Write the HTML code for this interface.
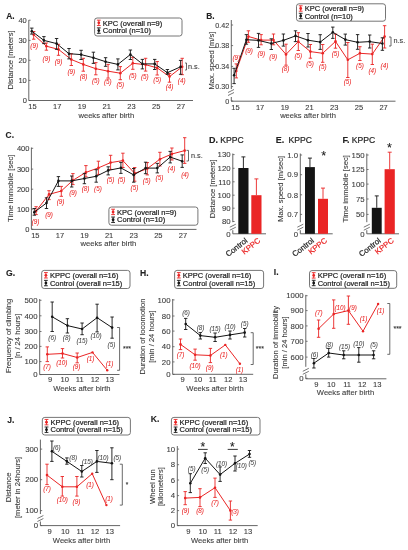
<!DOCTYPE html>
<html><head><meta charset="utf-8"><style>
html,body{margin:0;padding:0;background:#fff;width:408px;height:550px;overflow:hidden}
svg{display:block;font-family:"Liberation Sans", sans-serif;filter:blur(0.35px)}
</style></head><body>
<svg width="408" height="550" viewBox="0 0 408 550">
<rect width="408" height="550" fill="#fff"/>
<text x="6.20" y="19.32" font-size="8.4" text-anchor="start" fill="#222" stroke="#222" stroke-width="0.1" font-weight="bold">A.</text>
<line x1="28.80" y1="20.10" x2="28.80" y2="100.50" stroke="#555" stroke-width="0.9"/>
<line x1="28.80" y1="20.20" x2="30.60" y2="20.20" stroke="#555" stroke-width="0.8"/>
<text x="26.80" y="22.88" font-size="7.5" text-anchor="end" fill="#3c3c3c" stroke="#3c3c3c" stroke-width="0.1">40</text>
<line x1="28.80" y1="40.40" x2="30.60" y2="40.40" stroke="#555" stroke-width="0.8"/>
<text x="26.80" y="43.09" font-size="7.5" text-anchor="end" fill="#3c3c3c" stroke="#3c3c3c" stroke-width="0.1">30</text>
<line x1="28.80" y1="60.30" x2="30.60" y2="60.30" stroke="#555" stroke-width="0.8"/>
<text x="26.80" y="62.98" font-size="7.5" text-anchor="end" fill="#3c3c3c" stroke="#3c3c3c" stroke-width="0.1">20</text>
<line x1="28.80" y1="80.40" x2="30.60" y2="80.40" stroke="#555" stroke-width="0.8"/>
<text x="26.80" y="83.09" font-size="7.5" text-anchor="end" fill="#3c3c3c" stroke="#3c3c3c" stroke-width="0.1">10</text>
<line x1="28.80" y1="100.50" x2="30.60" y2="100.50" stroke="#555" stroke-width="0.8"/>
<text x="26.80" y="103.19" font-size="7.5" text-anchor="end" fill="#3c3c3c" stroke="#3c3c3c" stroke-width="0.1">0</text>
<line x1="28.80" y1="100.50" x2="193.00" y2="100.50" stroke="#555" stroke-width="0.9"/>
<text x="32.50" y="109.48" font-size="7.5" text-anchor="middle" fill="#3c3c3c" stroke="#3c3c3c" stroke-width="0.1">15</text>
<text x="57.24" y="109.48" font-size="7.5" text-anchor="middle" fill="#3c3c3c" stroke="#3c3c3c" stroke-width="0.1">17</text>
<text x="81.98" y="109.48" font-size="7.5" text-anchor="middle" fill="#3c3c3c" stroke="#3c3c3c" stroke-width="0.1">19</text>
<text x="106.72" y="109.48" font-size="7.5" text-anchor="middle" fill="#3c3c3c" stroke="#3c3c3c" stroke-width="0.1">21</text>
<text x="131.46" y="109.48" font-size="7.5" text-anchor="middle" fill="#3c3c3c" stroke="#3c3c3c" stroke-width="0.1">23</text>
<text x="156.20" y="109.48" font-size="7.5" text-anchor="middle" fill="#3c3c3c" stroke="#3c3c3c" stroke-width="0.1">25</text>
<text x="180.94" y="109.48" font-size="7.5" text-anchor="middle" fill="#3c3c3c" stroke="#3c3c3c" stroke-width="0.1">27</text>
<text x="106.30" y="118.32" font-size="7.6" text-anchor="middle" fill="#3c3c3c" stroke="#3c3c3c" stroke-width="0.1">weeks after birth</text>
<text x="10.00" y="62.72" font-size="7.6" text-anchor="middle" fill="#3c3c3c" stroke="#3c3c3c" stroke-width="0.1" transform="rotate(-90 10.00 60.00)">Distance [meters]</text>
<polyline points="33.70,34.70 46.40,46.20 58.50,49.40 71.30,59.50 83.30,64.40 95.80,68.70 108.10,71.20 120.30,73.20 132.80,63.30 145.60,64.70 157.20,67.90 169.50,76.60 182.20,66.80" fill="none" stroke="#ea2525" stroke-width="1.0" stroke-linejoin="round"/>
<line x1="33.70" y1="31.50" x2="33.70" y2="39.20" stroke="#ea2525" stroke-width="0.9"/>
<line x1="32.00" y1="31.50" x2="35.40" y2="31.50" stroke="#ea2525" stroke-width="0.9"/>
<line x1="32.00" y1="39.20" x2="35.40" y2="39.20" stroke="#ea2525" stroke-width="0.9"/>
<circle cx="33.70" cy="34.70" r="1.3" fill="#ea2525"/>
<line x1="46.40" y1="43.00" x2="46.40" y2="50.20" stroke="#ea2525" stroke-width="0.9"/>
<line x1="44.70" y1="43.00" x2="48.10" y2="43.00" stroke="#ea2525" stroke-width="0.9"/>
<line x1="44.70" y1="50.20" x2="48.10" y2="50.20" stroke="#ea2525" stroke-width="0.9"/>
<circle cx="46.40" cy="46.20" r="1.3" fill="#ea2525"/>
<line x1="58.50" y1="44.30" x2="58.50" y2="55.30" stroke="#ea2525" stroke-width="0.9"/>
<line x1="56.80" y1="44.30" x2="60.20" y2="44.30" stroke="#ea2525" stroke-width="0.9"/>
<line x1="56.80" y1="55.30" x2="60.20" y2="55.30" stroke="#ea2525" stroke-width="0.9"/>
<circle cx="58.50" cy="49.40" r="1.3" fill="#ea2525"/>
<line x1="71.30" y1="53.80" x2="71.30" y2="65.50" stroke="#ea2525" stroke-width="0.9"/>
<line x1="69.60" y1="53.80" x2="73.00" y2="53.80" stroke="#ea2525" stroke-width="0.9"/>
<line x1="69.60" y1="65.50" x2="73.00" y2="65.50" stroke="#ea2525" stroke-width="0.9"/>
<circle cx="71.30" cy="59.50" r="1.3" fill="#ea2525"/>
<line x1="83.30" y1="58.30" x2="83.30" y2="71.20" stroke="#ea2525" stroke-width="0.9"/>
<line x1="81.60" y1="58.30" x2="85.00" y2="58.30" stroke="#ea2525" stroke-width="0.9"/>
<line x1="81.60" y1="71.20" x2="85.00" y2="71.20" stroke="#ea2525" stroke-width="0.9"/>
<circle cx="83.30" cy="64.40" r="1.3" fill="#ea2525"/>
<line x1="95.80" y1="62.60" x2="95.80" y2="74.80" stroke="#ea2525" stroke-width="0.9"/>
<line x1="94.10" y1="62.60" x2="97.50" y2="62.60" stroke="#ea2525" stroke-width="0.9"/>
<line x1="94.10" y1="74.80" x2="97.50" y2="74.80" stroke="#ea2525" stroke-width="0.9"/>
<circle cx="95.80" cy="68.70" r="1.3" fill="#ea2525"/>
<line x1="108.10" y1="64.40" x2="108.10" y2="78.10" stroke="#ea2525" stroke-width="0.9"/>
<line x1="106.40" y1="64.40" x2="109.80" y2="64.40" stroke="#ea2525" stroke-width="0.9"/>
<line x1="106.40" y1="78.10" x2="109.80" y2="78.10" stroke="#ea2525" stroke-width="0.9"/>
<circle cx="108.10" cy="71.20" r="1.3" fill="#ea2525"/>
<line x1="120.30" y1="66.60" x2="120.30" y2="79.70" stroke="#ea2525" stroke-width="0.9"/>
<line x1="118.60" y1="66.60" x2="122.00" y2="66.60" stroke="#ea2525" stroke-width="0.9"/>
<line x1="118.60" y1="79.70" x2="122.00" y2="79.70" stroke="#ea2525" stroke-width="0.9"/>
<circle cx="120.30" cy="73.20" r="1.3" fill="#ea2525"/>
<line x1="132.80" y1="57.30" x2="132.80" y2="69.30" stroke="#ea2525" stroke-width="0.9"/>
<line x1="131.10" y1="57.30" x2="134.50" y2="57.30" stroke="#ea2525" stroke-width="0.9"/>
<line x1="131.10" y1="69.30" x2="134.50" y2="69.30" stroke="#ea2525" stroke-width="0.9"/>
<circle cx="132.80" cy="63.30" r="1.3" fill="#ea2525"/>
<line x1="145.60" y1="58.30" x2="145.60" y2="71.10" stroke="#ea2525" stroke-width="0.9"/>
<line x1="143.90" y1="58.30" x2="147.30" y2="58.30" stroke="#ea2525" stroke-width="0.9"/>
<line x1="143.90" y1="71.10" x2="147.30" y2="71.10" stroke="#ea2525" stroke-width="0.9"/>
<circle cx="145.60" cy="64.70" r="1.3" fill="#ea2525"/>
<line x1="157.20" y1="61.50" x2="157.20" y2="75.00" stroke="#ea2525" stroke-width="0.9"/>
<line x1="155.50" y1="61.50" x2="158.90" y2="61.50" stroke="#ea2525" stroke-width="0.9"/>
<line x1="155.50" y1="75.00" x2="158.90" y2="75.00" stroke="#ea2525" stroke-width="0.9"/>
<circle cx="157.20" cy="67.90" r="1.3" fill="#ea2525"/>
<line x1="169.50" y1="73.50" x2="169.50" y2="82.20" stroke="#ea2525" stroke-width="0.9"/>
<line x1="167.80" y1="73.50" x2="171.20" y2="73.50" stroke="#ea2525" stroke-width="0.9"/>
<line x1="167.80" y1="82.20" x2="171.20" y2="82.20" stroke="#ea2525" stroke-width="0.9"/>
<circle cx="169.50" cy="76.60" r="1.3" fill="#ea2525"/>
<line x1="182.20" y1="58.30" x2="182.20" y2="74.70" stroke="#ea2525" stroke-width="0.9"/>
<line x1="180.50" y1="58.30" x2="183.90" y2="58.30" stroke="#ea2525" stroke-width="0.9"/>
<line x1="180.50" y1="74.70" x2="183.90" y2="74.70" stroke="#ea2525" stroke-width="0.9"/>
<circle cx="182.20" cy="66.80" r="1.3" fill="#ea2525"/>
<polyline points="31.80,31.20 43.90,40.40 56.60,43.60 69.00,53.70 81.10,54.60 93.40,57.70 105.60,61.70 117.90,64.40 130.40,54.50 142.40,63.90 154.70,63.90 167.40,72.70 180.60,66.80" fill="none" stroke="#141414" stroke-width="1.0" stroke-linejoin="round"/>
<line x1="31.80" y1="28.10" x2="31.80" y2="34.10" stroke="#141414" stroke-width="0.9"/>
<line x1="30.10" y1="28.10" x2="33.50" y2="28.10" stroke="#141414" stroke-width="0.9"/>
<line x1="30.10" y1="34.10" x2="33.50" y2="34.10" stroke="#141414" stroke-width="0.9"/>
<circle cx="31.80" cy="31.20" r="1.3" fill="#141414"/>
<line x1="43.90" y1="36.60" x2="43.90" y2="43.60" stroke="#141414" stroke-width="0.9"/>
<line x1="42.20" y1="36.60" x2="45.60" y2="36.60" stroke="#141414" stroke-width="0.9"/>
<line x1="42.20" y1="43.60" x2="45.60" y2="43.60" stroke="#141414" stroke-width="0.9"/>
<circle cx="43.90" cy="40.40" r="1.3" fill="#141414"/>
<line x1="56.60" y1="38.50" x2="56.60" y2="49.40" stroke="#141414" stroke-width="0.9"/>
<line x1="54.90" y1="38.50" x2="58.30" y2="38.50" stroke="#141414" stroke-width="0.9"/>
<line x1="54.90" y1="49.40" x2="58.30" y2="49.40" stroke="#141414" stroke-width="0.9"/>
<circle cx="56.60" cy="43.60" r="1.3" fill="#141414"/>
<line x1="69.00" y1="48.50" x2="69.00" y2="58.90" stroke="#141414" stroke-width="0.9"/>
<line x1="67.30" y1="48.50" x2="70.70" y2="48.50" stroke="#141414" stroke-width="0.9"/>
<line x1="67.30" y1="58.90" x2="70.70" y2="58.90" stroke="#141414" stroke-width="0.9"/>
<circle cx="69.00" cy="53.70" r="1.3" fill="#141414"/>
<line x1="81.10" y1="50.30" x2="81.10" y2="59.50" stroke="#141414" stroke-width="0.9"/>
<line x1="79.40" y1="50.30" x2="82.80" y2="50.30" stroke="#141414" stroke-width="0.9"/>
<line x1="79.40" y1="59.50" x2="82.80" y2="59.50" stroke="#141414" stroke-width="0.9"/>
<circle cx="81.10" cy="54.60" r="1.3" fill="#141414"/>
<line x1="93.40" y1="52.20" x2="93.40" y2="63.40" stroke="#141414" stroke-width="0.9"/>
<line x1="91.70" y1="52.20" x2="95.10" y2="52.20" stroke="#141414" stroke-width="0.9"/>
<line x1="91.70" y1="63.40" x2="95.10" y2="63.40" stroke="#141414" stroke-width="0.9"/>
<circle cx="93.40" cy="57.70" r="1.3" fill="#141414"/>
<line x1="105.60" y1="57.70" x2="105.60" y2="66.30" stroke="#141414" stroke-width="0.9"/>
<line x1="103.90" y1="57.70" x2="107.30" y2="57.70" stroke="#141414" stroke-width="0.9"/>
<line x1="103.90" y1="66.30" x2="107.30" y2="66.30" stroke="#141414" stroke-width="0.9"/>
<circle cx="105.60" cy="61.70" r="1.3" fill="#141414"/>
<line x1="117.90" y1="58.90" x2="117.90" y2="69.90" stroke="#141414" stroke-width="0.9"/>
<line x1="116.20" y1="58.90" x2="119.60" y2="58.90" stroke="#141414" stroke-width="0.9"/>
<line x1="116.20" y1="69.90" x2="119.60" y2="69.90" stroke="#141414" stroke-width="0.9"/>
<circle cx="117.90" cy="64.40" r="1.3" fill="#141414"/>
<line x1="130.40" y1="50.00" x2="130.40" y2="59.50" stroke="#141414" stroke-width="0.9"/>
<line x1="128.70" y1="50.00" x2="132.10" y2="50.00" stroke="#141414" stroke-width="0.9"/>
<line x1="128.70" y1="59.50" x2="132.10" y2="59.50" stroke="#141414" stroke-width="0.9"/>
<circle cx="130.40" cy="54.50" r="1.3" fill="#141414"/>
<line x1="142.40" y1="59.40" x2="142.40" y2="68.90" stroke="#141414" stroke-width="0.9"/>
<line x1="140.70" y1="59.40" x2="144.10" y2="59.40" stroke="#141414" stroke-width="0.9"/>
<line x1="140.70" y1="68.90" x2="144.10" y2="68.90" stroke="#141414" stroke-width="0.9"/>
<circle cx="142.40" cy="63.90" r="1.3" fill="#141414"/>
<line x1="154.70" y1="59.40" x2="154.70" y2="69.50" stroke="#141414" stroke-width="0.9"/>
<line x1="153.00" y1="59.40" x2="156.40" y2="59.40" stroke="#141414" stroke-width="0.9"/>
<line x1="153.00" y1="69.50" x2="156.40" y2="69.50" stroke="#141414" stroke-width="0.9"/>
<circle cx="154.70" cy="63.90" r="1.3" fill="#141414"/>
<line x1="167.40" y1="69.50" x2="167.40" y2="74.30" stroke="#141414" stroke-width="0.9"/>
<line x1="165.70" y1="69.50" x2="169.10" y2="69.50" stroke="#141414" stroke-width="0.9"/>
<line x1="165.70" y1="74.30" x2="169.10" y2="74.30" stroke="#141414" stroke-width="0.9"/>
<circle cx="167.40" cy="72.70" r="1.3" fill="#141414"/>
<line x1="180.60" y1="60.40" x2="180.60" y2="74.30" stroke="#141414" stroke-width="0.9"/>
<line x1="178.90" y1="60.40" x2="182.30" y2="60.40" stroke="#141414" stroke-width="0.9"/>
<line x1="178.90" y1="74.30" x2="182.30" y2="74.30" stroke="#141414" stroke-width="0.9"/>
<circle cx="180.60" cy="66.80" r="1.3" fill="#141414"/>
<text x="34.20" y="48.26" font-size="6.3" text-anchor="middle" fill="#ea2525" stroke="#ea2525" stroke-width="0.05" font-style="italic">(9)</text>
<text x="46.40" y="60.76" font-size="6.3" text-anchor="middle" fill="#ea2525" stroke="#ea2525" stroke-width="0.05" font-style="italic">(9)</text>
<text x="58.50" y="64.26" font-size="6.3" text-anchor="middle" fill="#ea2525" stroke="#ea2525" stroke-width="0.05" font-style="italic">(9)</text>
<text x="71.30" y="73.56" font-size="6.3" text-anchor="middle" fill="#ea2525" stroke="#ea2525" stroke-width="0.05" font-style="italic">(9)</text>
<text x="83.60" y="78.96" font-size="6.3" text-anchor="middle" fill="#ea2525" stroke="#ea2525" stroke-width="0.05" font-style="italic">(8)</text>
<text x="95.80" y="82.56" font-size="6.3" text-anchor="middle" fill="#ea2525" stroke="#ea2525" stroke-width="0.05" font-style="italic">(5)</text>
<text x="107.80" y="84.46" font-size="6.3" text-anchor="middle" fill="#ea2525" stroke="#ea2525" stroke-width="0.05" font-style="italic">(5)</text>
<text x="120.30" y="86.86" font-size="6.3" text-anchor="middle" fill="#ea2525" stroke="#ea2525" stroke-width="0.05" font-style="italic">(5)</text>
<text x="132.80" y="77.76" font-size="6.3" text-anchor="middle" fill="#ea2525" stroke="#ea2525" stroke-width="0.05" font-style="italic">(5)</text>
<text x="144.80" y="78.86" font-size="6.3" text-anchor="middle" fill="#ea2525" stroke="#ea2525" stroke-width="0.05" font-style="italic">(5)</text>
<text x="157.20" y="82.06" font-size="6.3" text-anchor="middle" fill="#ea2525" stroke="#ea2525" stroke-width="0.05" font-style="italic">(5)</text>
<text x="169.50" y="88.76" font-size="6.3" text-anchor="middle" fill="#ea2525" stroke="#ea2525" stroke-width="0.05" font-style="italic">(4)</text>
<text x="181.70" y="82.86" font-size="6.3" text-anchor="middle" fill="#ea2525" stroke="#ea2525" stroke-width="0.05" font-style="italic">(4)</text>
<rect x="94.60" y="18.00" width="87.40" height="18.00" rx="2.5" fill="#fff" stroke="#666" stroke-width="0.9"/>
<line x1="98.80" y1="20.16" x2="98.80" y2="25.56" stroke="#ea2525" stroke-width="0.9"/>
<line x1="96.90" y1="20.16" x2="100.70" y2="20.16" stroke="#ea2525" stroke-width="0.9"/>
<line x1="96.90" y1="25.56" x2="100.70" y2="25.56" stroke="#ea2525" stroke-width="0.9"/>
<circle cx="98.80" cy="22.86" r="1.4" fill="#ea2525"/>
<line x1="98.80" y1="27.90" x2="98.80" y2="33.30" stroke="#141414" stroke-width="0.9"/>
<line x1="96.90" y1="27.90" x2="100.70" y2="27.90" stroke="#141414" stroke-width="0.9"/>
<line x1="96.90" y1="33.30" x2="100.70" y2="33.30" stroke="#141414" stroke-width="0.9"/>
<circle cx="98.80" cy="30.60" r="1.4" fill="#141414"/>
<text x="102.80" y="25.54" font-size="7.5" text-anchor="start" fill="#262626" stroke="#262626" stroke-width="0.22">KPC (overall n=9)</text>
<text x="102.80" y="33.29" font-size="7.5" text-anchor="start" fill="#262626" stroke="#262626" stroke-width="0.22">Control (n=10)</text>
<line x1="185.00" y1="63.00" x2="186.50" y2="63.00" stroke="#444" stroke-width="0.8"/>
<line x1="186.50" y1="63.00" x2="186.50" y2="70.00" stroke="#444" stroke-width="0.8"/>
<line x1="185.00" y1="70.00" x2="186.50" y2="70.00" stroke="#444" stroke-width="0.8"/>
<text x="188.00" y="69.41" font-size="7.3" text-anchor="start" fill="#3c3c3c" stroke="#3c3c3c" stroke-width="0.1">n.s.</text>
<text x="206.20" y="19.32" font-size="8.4" text-anchor="start" fill="#222" stroke="#222" stroke-width="0.1" font-weight="bold">B.</text>
<line x1="231.30" y1="20.00" x2="231.30" y2="101.00" stroke="#555" stroke-width="0.9"/>
<line x1="231.30" y1="25.00" x2="233.10" y2="25.00" stroke="#555" stroke-width="0.8"/>
<text x="229.30" y="27.58" font-size="7.2" text-anchor="end" fill="#3c3c3c" stroke="#3c3c3c" stroke-width="0.1">0.42</text>
<line x1="231.30" y1="45.60" x2="233.10" y2="45.60" stroke="#555" stroke-width="0.8"/>
<text x="229.30" y="48.18" font-size="7.2" text-anchor="end" fill="#3c3c3c" stroke="#3c3c3c" stroke-width="0.1">0.38</text>
<line x1="231.30" y1="66.40" x2="233.10" y2="66.40" stroke="#555" stroke-width="0.8"/>
<text x="229.30" y="68.98" font-size="7.2" text-anchor="end" fill="#3c3c3c" stroke="#3c3c3c" stroke-width="0.1">0.34</text>
<line x1="231.30" y1="86.60" x2="233.10" y2="86.60" stroke="#555" stroke-width="0.8"/>
<text x="229.30" y="89.18" font-size="7.2" text-anchor="end" fill="#3c3c3c" stroke="#3c3c3c" stroke-width="0.1">0.30</text>
<line x1="231.30" y1="101.00" x2="233.10" y2="101.00" stroke="#555" stroke-width="0.8"/>
<text x="229.30" y="103.58" font-size="7.2" text-anchor="end" fill="#3c3c3c" stroke="#3c3c3c" stroke-width="0.1">0</text>
<rect x="228.00" y="89.00" width="6" height="8" fill="#fff"/>
<line x1="228.00" y1="92.50" x2="234.00" y2="89.50" stroke="#555" stroke-width="0.8"/>
<line x1="228.00" y1="95.50" x2="234.00" y2="92.50" stroke="#555" stroke-width="0.8"/>
<line x1="231.00" y1="101.20" x2="395.50" y2="101.20" stroke="#555" stroke-width="0.9"/>
<text x="235.40" y="109.69" font-size="7.5" text-anchor="middle" fill="#3c3c3c" stroke="#3c3c3c" stroke-width="0.1">15</text>
<text x="260.10" y="109.69" font-size="7.5" text-anchor="middle" fill="#3c3c3c" stroke="#3c3c3c" stroke-width="0.1">17</text>
<text x="284.80" y="109.69" font-size="7.5" text-anchor="middle" fill="#3c3c3c" stroke="#3c3c3c" stroke-width="0.1">19</text>
<text x="309.50" y="109.69" font-size="7.5" text-anchor="middle" fill="#3c3c3c" stroke="#3c3c3c" stroke-width="0.1">21</text>
<text x="334.20" y="109.69" font-size="7.5" text-anchor="middle" fill="#3c3c3c" stroke="#3c3c3c" stroke-width="0.1">23</text>
<text x="358.90" y="109.69" font-size="7.5" text-anchor="middle" fill="#3c3c3c" stroke="#3c3c3c" stroke-width="0.1">25</text>
<text x="383.60" y="109.69" font-size="7.5" text-anchor="middle" fill="#3c3c3c" stroke="#3c3c3c" stroke-width="0.1">27</text>
<text x="308.00" y="117.72" font-size="7.6" text-anchor="middle" fill="#3c3c3c" stroke="#3c3c3c" stroke-width="0.1">weeks after birth</text>
<text x="211.40" y="63.32" font-size="7.6" text-anchor="middle" fill="#3c3c3c" stroke="#3c3c3c" stroke-width="0.1" transform="rotate(-90 211.40 60.60)">Max. speed [m/s]</text>
<polyline points="236.30,70.90 248.40,36.50 261.10,40.10 273.50,40.10 286.00,54.40 298.30,41.60 310.40,51.60 322.70,53.30 335.50,41.40 347.80,59.80 359.90,53.30 372.30,54.10 384.60,36.50" fill="none" stroke="#ea2525" stroke-width="1.0" stroke-linejoin="round"/>
<line x1="236.30" y1="63.90" x2="236.30" y2="77.90" stroke="#ea2525" stroke-width="0.9"/>
<line x1="234.60" y1="63.90" x2="238.00" y2="63.90" stroke="#ea2525" stroke-width="0.9"/>
<line x1="234.60" y1="77.90" x2="238.00" y2="77.90" stroke="#ea2525" stroke-width="0.9"/>
<circle cx="236.30" cy="70.90" r="1.3" fill="#ea2525"/>
<line x1="248.40" y1="30.80" x2="248.40" y2="42.30" stroke="#ea2525" stroke-width="0.9"/>
<line x1="246.70" y1="30.80" x2="250.10" y2="30.80" stroke="#ea2525" stroke-width="0.9"/>
<line x1="246.70" y1="42.30" x2="250.10" y2="42.30" stroke="#ea2525" stroke-width="0.9"/>
<circle cx="248.40" cy="36.50" r="1.3" fill="#ea2525"/>
<line x1="261.10" y1="34.60" x2="261.10" y2="44.80" stroke="#ea2525" stroke-width="0.9"/>
<line x1="259.40" y1="34.60" x2="262.80" y2="34.60" stroke="#ea2525" stroke-width="0.9"/>
<line x1="259.40" y1="44.80" x2="262.80" y2="44.80" stroke="#ea2525" stroke-width="0.9"/>
<circle cx="261.10" cy="40.10" r="1.3" fill="#ea2525"/>
<line x1="273.50" y1="34.00" x2="273.50" y2="44.80" stroke="#ea2525" stroke-width="0.9"/>
<line x1="271.80" y1="34.00" x2="275.20" y2="34.00" stroke="#ea2525" stroke-width="0.9"/>
<line x1="271.80" y1="44.80" x2="275.20" y2="44.80" stroke="#ea2525" stroke-width="0.9"/>
<circle cx="273.50" cy="40.10" r="1.3" fill="#ea2525"/>
<line x1="286.00" y1="44.20" x2="286.00" y2="65.20" stroke="#ea2525" stroke-width="0.9"/>
<line x1="284.30" y1="44.20" x2="287.70" y2="44.20" stroke="#ea2525" stroke-width="0.9"/>
<line x1="284.30" y1="65.20" x2="287.70" y2="65.20" stroke="#ea2525" stroke-width="0.9"/>
<circle cx="286.00" cy="54.40" r="1.3" fill="#ea2525"/>
<line x1="298.30" y1="32.70" x2="298.30" y2="50.50" stroke="#ea2525" stroke-width="0.9"/>
<line x1="296.60" y1="32.70" x2="300.00" y2="32.70" stroke="#ea2525" stroke-width="0.9"/>
<line x1="296.60" y1="50.50" x2="300.00" y2="50.50" stroke="#ea2525" stroke-width="0.9"/>
<circle cx="298.30" cy="41.60" r="1.3" fill="#ea2525"/>
<line x1="310.40" y1="44.50" x2="310.40" y2="58.20" stroke="#ea2525" stroke-width="0.9"/>
<line x1="308.70" y1="44.50" x2="312.10" y2="44.50" stroke="#ea2525" stroke-width="0.9"/>
<line x1="308.70" y1="58.20" x2="312.10" y2="58.20" stroke="#ea2525" stroke-width="0.9"/>
<circle cx="310.40" cy="51.60" r="1.3" fill="#ea2525"/>
<line x1="322.70" y1="44.50" x2="322.70" y2="62.30" stroke="#ea2525" stroke-width="0.9"/>
<line x1="321.00" y1="44.50" x2="324.40" y2="44.50" stroke="#ea2525" stroke-width="0.9"/>
<line x1="321.00" y1="62.30" x2="324.40" y2="62.30" stroke="#ea2525" stroke-width="0.9"/>
<circle cx="322.70" cy="53.30" r="1.3" fill="#ea2525"/>
<line x1="335.50" y1="34.10" x2="335.50" y2="48.20" stroke="#ea2525" stroke-width="0.9"/>
<line x1="333.80" y1="34.10" x2="337.20" y2="34.10" stroke="#ea2525" stroke-width="0.9"/>
<line x1="333.80" y1="48.20" x2="337.20" y2="48.20" stroke="#ea2525" stroke-width="0.9"/>
<circle cx="335.50" cy="41.40" r="1.3" fill="#ea2525"/>
<line x1="347.80" y1="42.50" x2="347.80" y2="77.50" stroke="#ea2525" stroke-width="0.9"/>
<line x1="346.10" y1="42.50" x2="349.50" y2="42.50" stroke="#ea2525" stroke-width="0.9"/>
<line x1="346.10" y1="77.50" x2="349.50" y2="77.50" stroke="#ea2525" stroke-width="0.9"/>
<circle cx="347.80" cy="59.80" r="1.3" fill="#ea2525"/>
<line x1="359.90" y1="46.70" x2="359.90" y2="60.50" stroke="#ea2525" stroke-width="0.9"/>
<line x1="358.20" y1="46.70" x2="361.60" y2="46.70" stroke="#ea2525" stroke-width="0.9"/>
<line x1="358.20" y1="60.50" x2="361.60" y2="60.50" stroke="#ea2525" stroke-width="0.9"/>
<circle cx="359.90" cy="53.30" r="1.3" fill="#ea2525"/>
<line x1="372.30" y1="44.20" x2="372.30" y2="64.50" stroke="#ea2525" stroke-width="0.9"/>
<line x1="370.60" y1="44.20" x2="374.00" y2="44.20" stroke="#ea2525" stroke-width="0.9"/>
<line x1="370.60" y1="64.50" x2="374.00" y2="64.50" stroke="#ea2525" stroke-width="0.9"/>
<circle cx="372.30" cy="54.10" r="1.3" fill="#ea2525"/>
<line x1="384.60" y1="25.70" x2="384.60" y2="48.00" stroke="#ea2525" stroke-width="0.9"/>
<line x1="382.90" y1="25.70" x2="386.30" y2="25.70" stroke="#ea2525" stroke-width="0.9"/>
<line x1="382.90" y1="48.00" x2="386.30" y2="48.00" stroke="#ea2525" stroke-width="0.9"/>
<circle cx="384.60" cy="36.50" r="1.3" fill="#ea2525"/>
<polyline points="234.10,75.30 246.40,39.70 258.50,40.40 271.30,43.50 283.40,40.40 295.50,35.90 308.00,40.20 320.20,42.10 332.80,32.30 345.30,39.60 357.60,42.30 369.70,41.60 382.40,43.50" fill="none" stroke="#141414" stroke-width="1.0" stroke-linejoin="round"/>
<line x1="234.10" y1="68.30" x2="234.10" y2="83.60" stroke="#141414" stroke-width="0.9"/>
<line x1="232.40" y1="68.30" x2="235.80" y2="68.30" stroke="#141414" stroke-width="0.9"/>
<line x1="232.40" y1="83.60" x2="235.80" y2="83.60" stroke="#141414" stroke-width="0.9"/>
<circle cx="234.10" cy="75.30" r="1.3" fill="#141414"/>
<line x1="246.40" y1="34.60" x2="246.40" y2="44.20" stroke="#141414" stroke-width="0.9"/>
<line x1="244.70" y1="34.60" x2="248.10" y2="34.60" stroke="#141414" stroke-width="0.9"/>
<line x1="244.70" y1="44.20" x2="248.10" y2="44.20" stroke="#141414" stroke-width="0.9"/>
<circle cx="246.40" cy="39.70" r="1.3" fill="#141414"/>
<line x1="258.50" y1="33.40" x2="258.50" y2="47.40" stroke="#141414" stroke-width="0.9"/>
<line x1="256.80" y1="33.40" x2="260.20" y2="33.40" stroke="#141414" stroke-width="0.9"/>
<line x1="256.80" y1="47.40" x2="260.20" y2="47.40" stroke="#141414" stroke-width="0.9"/>
<circle cx="258.50" cy="40.40" r="1.3" fill="#141414"/>
<line x1="271.30" y1="38.80" x2="271.30" y2="49.50" stroke="#141414" stroke-width="0.9"/>
<line x1="269.60" y1="38.80" x2="273.00" y2="38.80" stroke="#141414" stroke-width="0.9"/>
<line x1="269.60" y1="49.50" x2="273.00" y2="49.50" stroke="#141414" stroke-width="0.9"/>
<circle cx="271.30" cy="43.50" r="1.3" fill="#141414"/>
<line x1="283.40" y1="34.00" x2="283.40" y2="46.10" stroke="#141414" stroke-width="0.9"/>
<line x1="281.70" y1="34.00" x2="285.10" y2="34.00" stroke="#141414" stroke-width="0.9"/>
<line x1="281.70" y1="46.10" x2="285.10" y2="46.10" stroke="#141414" stroke-width="0.9"/>
<circle cx="283.40" cy="40.40" r="1.3" fill="#141414"/>
<line x1="295.50" y1="30.80" x2="295.50" y2="41.60" stroke="#141414" stroke-width="0.9"/>
<line x1="293.80" y1="30.80" x2="297.20" y2="30.80" stroke="#141414" stroke-width="0.9"/>
<line x1="293.80" y1="41.60" x2="297.20" y2="41.60" stroke="#141414" stroke-width="0.9"/>
<circle cx="295.50" cy="35.90" r="1.3" fill="#141414"/>
<line x1="308.00" y1="33.50" x2="308.00" y2="47.00" stroke="#141414" stroke-width="0.9"/>
<line x1="306.30" y1="33.50" x2="309.70" y2="33.50" stroke="#141414" stroke-width="0.9"/>
<line x1="306.30" y1="47.00" x2="309.70" y2="47.00" stroke="#141414" stroke-width="0.9"/>
<circle cx="308.00" cy="40.20" r="1.3" fill="#141414"/>
<line x1="320.20" y1="34.70" x2="320.20" y2="49.40" stroke="#141414" stroke-width="0.9"/>
<line x1="318.50" y1="34.70" x2="321.90" y2="34.70" stroke="#141414" stroke-width="0.9"/>
<line x1="318.50" y1="49.40" x2="321.90" y2="49.40" stroke="#141414" stroke-width="0.9"/>
<circle cx="320.20" cy="42.10" r="1.3" fill="#141414"/>
<line x1="332.80" y1="27.10" x2="332.80" y2="38.40" stroke="#141414" stroke-width="0.9"/>
<line x1="331.10" y1="27.10" x2="334.50" y2="27.10" stroke="#141414" stroke-width="0.9"/>
<line x1="331.10" y1="38.40" x2="334.50" y2="38.40" stroke="#141414" stroke-width="0.9"/>
<circle cx="332.80" cy="32.30" r="1.3" fill="#141414"/>
<line x1="345.30" y1="34.10" x2="345.30" y2="45.10" stroke="#141414" stroke-width="0.9"/>
<line x1="343.60" y1="34.10" x2="347.00" y2="34.10" stroke="#141414" stroke-width="0.9"/>
<line x1="343.60" y1="45.10" x2="347.00" y2="45.10" stroke="#141414" stroke-width="0.9"/>
<circle cx="345.30" cy="39.60" r="1.3" fill="#141414"/>
<line x1="357.60" y1="34.60" x2="357.60" y2="49.30" stroke="#141414" stroke-width="0.9"/>
<line x1="355.90" y1="34.60" x2="359.30" y2="34.60" stroke="#141414" stroke-width="0.9"/>
<line x1="355.90" y1="49.30" x2="359.30" y2="49.30" stroke="#141414" stroke-width="0.9"/>
<circle cx="357.60" cy="42.30" r="1.3" fill="#141414"/>
<line x1="369.70" y1="35.00" x2="369.70" y2="48.00" stroke="#141414" stroke-width="0.9"/>
<line x1="368.00" y1="35.00" x2="371.40" y2="35.00" stroke="#141414" stroke-width="0.9"/>
<line x1="368.00" y1="48.00" x2="371.40" y2="48.00" stroke="#141414" stroke-width="0.9"/>
<circle cx="369.70" cy="41.60" r="1.3" fill="#141414"/>
<line x1="382.40" y1="37.80" x2="382.40" y2="50.30" stroke="#141414" stroke-width="0.9"/>
<line x1="380.70" y1="37.80" x2="384.10" y2="37.80" stroke="#141414" stroke-width="0.9"/>
<line x1="380.70" y1="50.30" x2="384.10" y2="50.30" stroke="#141414" stroke-width="0.9"/>
<circle cx="382.40" cy="43.50" r="1.3" fill="#141414"/>
<text x="236.30" y="60.16" font-size="6.3" text-anchor="middle" fill="#ea2525" stroke="#ea2525" stroke-width="0.05" font-style="italic">(9)</text>
<text x="249.00" y="53.06" font-size="6.3" text-anchor="middle" fill="#ea2525" stroke="#ea2525" stroke-width="0.05" font-style="italic">(9)</text>
<text x="261.30" y="55.56" font-size="6.3" text-anchor="middle" fill="#ea2525" stroke="#ea2525" stroke-width="0.05" font-style="italic">(9)</text>
<text x="273.20" y="58.56" font-size="6.3" text-anchor="middle" fill="#ea2525" stroke="#ea2525" stroke-width="0.05" font-style="italic">(9)</text>
<text x="285.60" y="71.26" font-size="6.3" text-anchor="middle" fill="#ea2525" stroke="#ea2525" stroke-width="0.05" font-style="italic">(8)</text>
<text x="298.30" y="57.86" font-size="6.3" text-anchor="middle" fill="#ea2525" stroke="#ea2525" stroke-width="0.05" font-style="italic">(5)</text>
<text x="310.00" y="65.66" font-size="6.3" text-anchor="middle" fill="#ea2525" stroke="#ea2525" stroke-width="0.05" font-style="italic">(5)</text>
<text x="322.70" y="69.46" font-size="6.3" text-anchor="middle" fill="#ea2525" stroke="#ea2525" stroke-width="0.05" font-style="italic">(5)</text>
<text x="335.50" y="55.96" font-size="6.3" text-anchor="middle" fill="#ea2525" stroke="#ea2525" stroke-width="0.05" font-style="italic">(5)</text>
<text x="347.50" y="83.76" font-size="6.3" text-anchor="middle" fill="#ea2525" stroke="#ea2525" stroke-width="0.05" font-style="italic">(5)</text>
<text x="359.90" y="68.06" font-size="6.3" text-anchor="middle" fill="#ea2525" stroke="#ea2525" stroke-width="0.05" font-style="italic">(5)</text>
<text x="372.30" y="72.56" font-size="6.3" text-anchor="middle" fill="#ea2525" stroke="#ea2525" stroke-width="0.05" font-style="italic">(4)</text>
<text x="384.40" y="68.06" font-size="6.3" text-anchor="middle" fill="#ea2525" stroke="#ea2525" stroke-width="0.05" font-style="italic">(4)</text>
<rect x="296.50" y="3.80" width="89.00" height="17.40" rx="2.5" fill="#fff" stroke="#666" stroke-width="0.9"/>
<line x1="300.70" y1="5.80" x2="300.70" y2="11.20" stroke="#ea2525" stroke-width="0.9"/>
<line x1="298.80" y1="5.80" x2="302.60" y2="5.80" stroke="#ea2525" stroke-width="0.9"/>
<line x1="298.80" y1="11.20" x2="302.60" y2="11.20" stroke="#ea2525" stroke-width="0.9"/>
<circle cx="300.70" cy="8.50" r="1.4" fill="#ea2525"/>
<line x1="300.70" y1="13.28" x2="300.70" y2="18.68" stroke="#141414" stroke-width="0.9"/>
<line x1="298.80" y1="13.28" x2="302.60" y2="13.28" stroke="#141414" stroke-width="0.9"/>
<line x1="298.80" y1="18.68" x2="302.60" y2="18.68" stroke="#141414" stroke-width="0.9"/>
<circle cx="300.70" cy="15.98" r="1.4" fill="#141414"/>
<text x="304.70" y="11.18" font-size="7.5" text-anchor="start" fill="#262626" stroke="#262626" stroke-width="0.22">KPC (overall n=9)</text>
<text x="304.70" y="18.66" font-size="7.5" text-anchor="start" fill="#262626" stroke="#262626" stroke-width="0.22">Control (n=10)</text>
<line x1="389.00" y1="37.00" x2="391.00" y2="37.00" stroke="#444" stroke-width="0.8"/>
<line x1="391.00" y1="37.00" x2="391.00" y2="46.00" stroke="#444" stroke-width="0.8"/>
<line x1="389.00" y1="46.00" x2="391.00" y2="46.00" stroke="#444" stroke-width="0.8"/>
<text x="393.50" y="43.11" font-size="7.3" text-anchor="start" fill="#3c3c3c" stroke="#3c3c3c" stroke-width="0.1">n.s.</text>
<text x="5.60" y="138.22" font-size="8.4" text-anchor="start" fill="#222" stroke="#222" stroke-width="0.1" font-weight="bold">C.</text>
<line x1="31.40" y1="147.50" x2="31.40" y2="229.20" stroke="#555" stroke-width="0.9"/>
<line x1="31.40" y1="148.30" x2="33.20" y2="148.30" stroke="#555" stroke-width="0.8"/>
<text x="29.40" y="150.99" font-size="7.5" text-anchor="end" fill="#3c3c3c" stroke="#3c3c3c" stroke-width="0.1">400</text>
<line x1="31.40" y1="169.10" x2="33.20" y2="169.10" stroke="#555" stroke-width="0.8"/>
<text x="29.40" y="171.78" font-size="7.5" text-anchor="end" fill="#3c3c3c" stroke="#3c3c3c" stroke-width="0.1">300</text>
<line x1="31.40" y1="189.20" x2="33.20" y2="189.20" stroke="#555" stroke-width="0.8"/>
<text x="29.40" y="191.88" font-size="7.5" text-anchor="end" fill="#3c3c3c" stroke="#3c3c3c" stroke-width="0.1">200</text>
<line x1="31.40" y1="209.10" x2="33.20" y2="209.10" stroke="#555" stroke-width="0.8"/>
<text x="29.40" y="211.78" font-size="7.5" text-anchor="end" fill="#3c3c3c" stroke="#3c3c3c" stroke-width="0.1">100</text>
<line x1="31.40" y1="229.20" x2="33.20" y2="229.20" stroke="#555" stroke-width="0.8"/>
<text x="29.40" y="231.88" font-size="7.5" text-anchor="end" fill="#3c3c3c" stroke="#3c3c3c" stroke-width="0.1">0</text>
<line x1="31.40" y1="229.40" x2="196.50" y2="229.40" stroke="#555" stroke-width="0.9"/>
<text x="35.30" y="237.99" font-size="7.5" text-anchor="middle" fill="#3c3c3c" stroke="#3c3c3c" stroke-width="0.1">15</text>
<text x="59.90" y="237.99" font-size="7.5" text-anchor="middle" fill="#3c3c3c" stroke="#3c3c3c" stroke-width="0.1">17</text>
<text x="84.50" y="237.99" font-size="7.5" text-anchor="middle" fill="#3c3c3c" stroke="#3c3c3c" stroke-width="0.1">19</text>
<text x="109.10" y="237.99" font-size="7.5" text-anchor="middle" fill="#3c3c3c" stroke="#3c3c3c" stroke-width="0.1">21</text>
<text x="133.70" y="237.99" font-size="7.5" text-anchor="middle" fill="#3c3c3c" stroke="#3c3c3c" stroke-width="0.1">23</text>
<text x="158.30" y="237.99" font-size="7.5" text-anchor="middle" fill="#3c3c3c" stroke="#3c3c3c" stroke-width="0.1">25</text>
<text x="182.90" y="237.99" font-size="7.5" text-anchor="middle" fill="#3c3c3c" stroke="#3c3c3c" stroke-width="0.1">27</text>
<text x="108.40" y="246.32" font-size="7.6" text-anchor="middle" fill="#3c3c3c" stroke="#3c3c3c" stroke-width="0.1">weeks after birth</text>
<text x="10.20" y="191.02" font-size="7.6" text-anchor="middle" fill="#3c3c3c" stroke="#3c3c3c" stroke-width="0.1" transform="rotate(-90 10.20 188.30)">Time immobile [sec]</text>
<polyline points="36.10,211.00 49.00,194.40 61.30,191.00 72.90,180.30 85.90,172.40 98.40,167.90 110.60,162.60 122.90,160.60 134.70,173.40 147.30,168.60 159.90,159.20 171.90,154.00 184.70,150.60" fill="none" stroke="#ea2525" stroke-width="1.0" stroke-linejoin="round"/>
<line x1="36.10" y1="206.70" x2="36.10" y2="214.60" stroke="#ea2525" stroke-width="0.9"/>
<line x1="34.40" y1="206.70" x2="37.80" y2="206.70" stroke="#ea2525" stroke-width="0.9"/>
<line x1="34.40" y1="214.60" x2="37.80" y2="214.60" stroke="#ea2525" stroke-width="0.9"/>
<circle cx="36.10" cy="211.00" r="1.3" fill="#ea2525"/>
<line x1="49.00" y1="190.70" x2="49.00" y2="199.60" stroke="#ea2525" stroke-width="0.9"/>
<line x1="47.30" y1="190.70" x2="50.70" y2="190.70" stroke="#ea2525" stroke-width="0.9"/>
<line x1="47.30" y1="199.60" x2="50.70" y2="199.60" stroke="#ea2525" stroke-width="0.9"/>
<circle cx="49.00" cy="194.40" r="1.3" fill="#ea2525"/>
<line x1="61.30" y1="186.40" x2="61.30" y2="196.30" stroke="#ea2525" stroke-width="0.9"/>
<line x1="59.60" y1="186.40" x2="63.00" y2="186.40" stroke="#ea2525" stroke-width="0.9"/>
<line x1="59.60" y1="196.30" x2="63.00" y2="196.30" stroke="#ea2525" stroke-width="0.9"/>
<circle cx="61.30" cy="191.00" r="1.3" fill="#ea2525"/>
<line x1="72.90" y1="173.60" x2="72.90" y2="184.60" stroke="#ea2525" stroke-width="0.9"/>
<line x1="71.20" y1="173.60" x2="74.60" y2="173.60" stroke="#ea2525" stroke-width="0.9"/>
<line x1="71.20" y1="184.60" x2="74.60" y2="184.60" stroke="#ea2525" stroke-width="0.9"/>
<circle cx="72.90" cy="180.30" r="1.3" fill="#ea2525"/>
<line x1="85.90" y1="165.60" x2="85.90" y2="176.80" stroke="#ea2525" stroke-width="0.9"/>
<line x1="84.20" y1="165.60" x2="87.60" y2="165.60" stroke="#ea2525" stroke-width="0.9"/>
<line x1="84.20" y1="176.80" x2="87.60" y2="176.80" stroke="#ea2525" stroke-width="0.9"/>
<circle cx="85.90" cy="172.40" r="1.3" fill="#ea2525"/>
<line x1="98.40" y1="161.20" x2="98.40" y2="174.40" stroke="#ea2525" stroke-width="0.9"/>
<line x1="96.70" y1="161.20" x2="100.10" y2="161.20" stroke="#ea2525" stroke-width="0.9"/>
<line x1="96.70" y1="174.40" x2="100.10" y2="174.40" stroke="#ea2525" stroke-width="0.9"/>
<circle cx="98.40" cy="167.90" r="1.3" fill="#ea2525"/>
<line x1="110.60" y1="155.30" x2="110.60" y2="169.40" stroke="#ea2525" stroke-width="0.9"/>
<line x1="108.90" y1="155.30" x2="112.30" y2="155.30" stroke="#ea2525" stroke-width="0.9"/>
<line x1="108.90" y1="169.40" x2="112.30" y2="169.40" stroke="#ea2525" stroke-width="0.9"/>
<circle cx="110.60" cy="162.60" r="1.3" fill="#ea2525"/>
<line x1="122.90" y1="153.20" x2="122.90" y2="167.50" stroke="#ea2525" stroke-width="0.9"/>
<line x1="121.20" y1="153.20" x2="124.60" y2="153.20" stroke="#ea2525" stroke-width="0.9"/>
<line x1="121.20" y1="167.50" x2="124.60" y2="167.50" stroke="#ea2525" stroke-width="0.9"/>
<circle cx="122.90" cy="160.60" r="1.3" fill="#ea2525"/>
<line x1="134.70" y1="167.50" x2="134.70" y2="181.20" stroke="#ea2525" stroke-width="0.9"/>
<line x1="133.00" y1="167.50" x2="136.40" y2="167.50" stroke="#ea2525" stroke-width="0.9"/>
<line x1="133.00" y1="181.20" x2="136.40" y2="181.20" stroke="#ea2525" stroke-width="0.9"/>
<circle cx="134.70" cy="173.40" r="1.3" fill="#ea2525"/>
<line x1="147.30" y1="162.60" x2="147.30" y2="174.90" stroke="#ea2525" stroke-width="0.9"/>
<line x1="145.60" y1="162.60" x2="149.00" y2="162.60" stroke="#ea2525" stroke-width="0.9"/>
<line x1="145.60" y1="174.90" x2="149.00" y2="174.90" stroke="#ea2525" stroke-width="0.9"/>
<circle cx="147.30" cy="168.60" r="1.3" fill="#ea2525"/>
<line x1="159.90" y1="152.30" x2="159.90" y2="166.00" stroke="#ea2525" stroke-width="0.9"/>
<line x1="158.20" y1="152.30" x2="161.60" y2="152.30" stroke="#ea2525" stroke-width="0.9"/>
<line x1="158.20" y1="166.00" x2="161.60" y2="166.00" stroke="#ea2525" stroke-width="0.9"/>
<circle cx="159.90" cy="159.20" r="1.3" fill="#ea2525"/>
<line x1="171.90" y1="148.00" x2="171.90" y2="160.00" stroke="#ea2525" stroke-width="0.9"/>
<line x1="170.20" y1="148.00" x2="173.60" y2="148.00" stroke="#ea2525" stroke-width="0.9"/>
<line x1="170.20" y1="160.00" x2="173.60" y2="160.00" stroke="#ea2525" stroke-width="0.9"/>
<circle cx="171.90" cy="154.00" r="1.3" fill="#ea2525"/>
<line x1="184.70" y1="137.70" x2="184.70" y2="163.40" stroke="#ea2525" stroke-width="0.9"/>
<line x1="183.00" y1="137.70" x2="186.40" y2="137.70" stroke="#ea2525" stroke-width="0.9"/>
<line x1="183.00" y1="163.40" x2="186.40" y2="163.40" stroke="#ea2525" stroke-width="0.9"/>
<circle cx="184.70" cy="150.60" r="1.3" fill="#ea2525"/>
<polyline points="34.30,212.20 46.50,203.00 58.40,180.90 71.70,180.90 84.40,178.50 96.20,176.30 108.20,170.40 120.90,167.90 133.70,174.90 145.60,168.10 157.30,168.10 170.20,157.10 182.20,161.20" fill="none" stroke="#141414" stroke-width="1.0" stroke-linejoin="round"/>
<line x1="34.30" y1="208.50" x2="34.30" y2="215.20" stroke="#141414" stroke-width="0.9"/>
<line x1="32.60" y1="208.50" x2="36.00" y2="208.50" stroke="#141414" stroke-width="0.9"/>
<line x1="32.60" y1="215.20" x2="36.00" y2="215.20" stroke="#141414" stroke-width="0.9"/>
<circle cx="34.30" cy="212.20" r="1.3" fill="#141414"/>
<line x1="46.50" y1="197.80" x2="46.50" y2="208.50" stroke="#141414" stroke-width="0.9"/>
<line x1="44.80" y1="197.80" x2="48.20" y2="197.80" stroke="#141414" stroke-width="0.9"/>
<line x1="44.80" y1="208.50" x2="48.20" y2="208.50" stroke="#141414" stroke-width="0.9"/>
<circle cx="46.50" cy="203.00" r="1.3" fill="#141414"/>
<line x1="58.40" y1="176.60" x2="58.40" y2="186.40" stroke="#141414" stroke-width="0.9"/>
<line x1="56.70" y1="176.60" x2="60.10" y2="176.60" stroke="#141414" stroke-width="0.9"/>
<line x1="56.70" y1="186.40" x2="60.10" y2="186.40" stroke="#141414" stroke-width="0.9"/>
<circle cx="58.40" cy="180.90" r="1.3" fill="#141414"/>
<line x1="71.70" y1="176.00" x2="71.70" y2="187.00" stroke="#141414" stroke-width="0.9"/>
<line x1="70.00" y1="176.00" x2="73.40" y2="176.00" stroke="#141414" stroke-width="0.9"/>
<line x1="70.00" y1="187.00" x2="73.40" y2="187.00" stroke="#141414" stroke-width="0.9"/>
<circle cx="71.70" cy="180.90" r="1.3" fill="#141414"/>
<line x1="84.40" y1="173.40" x2="84.40" y2="183.70" stroke="#141414" stroke-width="0.9"/>
<line x1="82.70" y1="173.40" x2="86.10" y2="173.40" stroke="#141414" stroke-width="0.9"/>
<line x1="82.70" y1="183.70" x2="86.10" y2="183.70" stroke="#141414" stroke-width="0.9"/>
<circle cx="84.40" cy="178.50" r="1.3" fill="#141414"/>
<line x1="96.20" y1="169.70" x2="96.20" y2="182.20" stroke="#141414" stroke-width="0.9"/>
<line x1="94.50" y1="169.70" x2="97.90" y2="169.70" stroke="#141414" stroke-width="0.9"/>
<line x1="94.50" y1="182.20" x2="97.90" y2="182.20" stroke="#141414" stroke-width="0.9"/>
<circle cx="96.20" cy="176.30" r="1.3" fill="#141414"/>
<line x1="108.20" y1="166.80" x2="108.20" y2="174.90" stroke="#141414" stroke-width="0.9"/>
<line x1="106.50" y1="166.80" x2="109.90" y2="166.80" stroke="#141414" stroke-width="0.9"/>
<line x1="106.50" y1="174.90" x2="109.90" y2="174.90" stroke="#141414" stroke-width="0.9"/>
<circle cx="108.20" cy="170.40" r="1.3" fill="#141414"/>
<line x1="120.90" y1="162.40" x2="120.90" y2="173.40" stroke="#141414" stroke-width="0.9"/>
<line x1="119.20" y1="162.40" x2="122.60" y2="162.40" stroke="#141414" stroke-width="0.9"/>
<line x1="119.20" y1="173.40" x2="122.60" y2="173.40" stroke="#141414" stroke-width="0.9"/>
<circle cx="120.90" cy="167.90" r="1.3" fill="#141414"/>
<line x1="133.70" y1="168.50" x2="133.70" y2="182.20" stroke="#141414" stroke-width="0.9"/>
<line x1="132.00" y1="168.50" x2="135.40" y2="168.50" stroke="#141414" stroke-width="0.9"/>
<line x1="132.00" y1="182.20" x2="135.40" y2="182.20" stroke="#141414" stroke-width="0.9"/>
<circle cx="133.70" cy="174.90" r="1.3" fill="#141414"/>
<line x1="145.60" y1="162.20" x2="145.60" y2="173.70" stroke="#141414" stroke-width="0.9"/>
<line x1="143.90" y1="162.20" x2="147.30" y2="162.20" stroke="#141414" stroke-width="0.9"/>
<line x1="143.90" y1="173.70" x2="147.30" y2="173.70" stroke="#141414" stroke-width="0.9"/>
<circle cx="145.60" cy="168.10" r="1.3" fill="#141414"/>
<line x1="157.30" y1="163.40" x2="157.30" y2="172.90" stroke="#141414" stroke-width="0.9"/>
<line x1="155.60" y1="163.40" x2="159.00" y2="163.40" stroke="#141414" stroke-width="0.9"/>
<line x1="155.60" y1="172.90" x2="159.00" y2="172.90" stroke="#141414" stroke-width="0.9"/>
<circle cx="157.30" cy="168.10" r="1.3" fill="#141414"/>
<line x1="170.20" y1="151.40" x2="170.20" y2="162.90" stroke="#141414" stroke-width="0.9"/>
<line x1="168.50" y1="151.40" x2="171.90" y2="151.40" stroke="#141414" stroke-width="0.9"/>
<line x1="168.50" y1="162.90" x2="171.90" y2="162.90" stroke="#141414" stroke-width="0.9"/>
<circle cx="170.20" cy="157.10" r="1.3" fill="#141414"/>
<line x1="182.20" y1="154.90" x2="182.20" y2="167.40" stroke="#141414" stroke-width="0.9"/>
<line x1="180.50" y1="154.90" x2="183.90" y2="154.90" stroke="#141414" stroke-width="0.9"/>
<line x1="180.50" y1="167.40" x2="183.90" y2="167.40" stroke="#141414" stroke-width="0.9"/>
<circle cx="182.20" cy="161.20" r="1.3" fill="#141414"/>
<text x="35.50" y="223.66" font-size="6.3" text-anchor="middle" fill="#ea2525" stroke="#ea2525" stroke-width="0.05" font-style="italic">(9)</text>
<text x="49.00" y="216.86" font-size="6.3" text-anchor="middle" fill="#ea2525" stroke="#ea2525" stroke-width="0.05" font-style="italic">(9)</text>
<text x="60.60" y="204.06" font-size="6.3" text-anchor="middle" fill="#ea2525" stroke="#ea2525" stroke-width="0.05" font-style="italic">(9)</text>
<text x="73.10" y="195.16" font-size="6.3" text-anchor="middle" fill="#ea2525" stroke="#ea2525" stroke-width="0.05" font-style="italic">(9)</text>
<text x="85.60" y="191.06" font-size="6.3" text-anchor="middle" fill="#ea2525" stroke="#ea2525" stroke-width="0.05" font-style="italic">(8)</text>
<text x="97.90" y="190.76" font-size="6.3" text-anchor="middle" fill="#ea2525" stroke="#ea2525" stroke-width="0.05" font-style="italic">(5)</text>
<text x="110.60" y="182.26" font-size="6.3" text-anchor="middle" fill="#ea2525" stroke="#ea2525" stroke-width="0.05" font-style="italic">(5)</text>
<text x="121.50" y="181.56" font-size="6.3" text-anchor="middle" fill="#ea2525" stroke="#ea2525" stroke-width="0.05" font-style="italic">(5)</text>
<text x="134.40" y="189.66" font-size="6.3" text-anchor="middle" fill="#ea2525" stroke="#ea2525" stroke-width="0.05" font-style="italic">(5)</text>
<text x="146.70" y="182.86" font-size="6.3" text-anchor="middle" fill="#ea2525" stroke="#ea2525" stroke-width="0.05" font-style="italic">(5)</text>
<text x="159.40" y="180.26" font-size="6.3" text-anchor="middle" fill="#ea2525" stroke="#ea2525" stroke-width="0.05" font-style="italic">(5)</text>
<text x="171.40" y="170.86" font-size="6.3" text-anchor="middle" fill="#ea2525" stroke="#ea2525" stroke-width="0.05" font-style="italic">(4)</text>
<text x="185.10" y="176.86" font-size="6.3" text-anchor="middle" fill="#ea2525" stroke="#ea2525" stroke-width="0.05" font-style="italic">(4)</text>
<rect x="108.90" y="207.00" width="89.00" height="18.20" rx="2.5" fill="#fff" stroke="#666" stroke-width="0.9"/>
<line x1="113.10" y1="209.21" x2="113.10" y2="214.61" stroke="#ea2525" stroke-width="0.9"/>
<line x1="111.20" y1="209.21" x2="115.00" y2="209.21" stroke="#ea2525" stroke-width="0.9"/>
<line x1="111.20" y1="214.61" x2="115.00" y2="214.61" stroke="#ea2525" stroke-width="0.9"/>
<circle cx="113.10" cy="211.91" r="1.4" fill="#ea2525"/>
<line x1="113.10" y1="217.04" x2="113.10" y2="222.44" stroke="#141414" stroke-width="0.9"/>
<line x1="111.20" y1="217.04" x2="115.00" y2="217.04" stroke="#141414" stroke-width="0.9"/>
<line x1="111.20" y1="222.44" x2="115.00" y2="222.44" stroke="#141414" stroke-width="0.9"/>
<circle cx="113.10" cy="219.74" r="1.4" fill="#141414"/>
<text x="117.10" y="214.60" font-size="7.5" text-anchor="start" fill="#262626" stroke="#262626" stroke-width="0.22">KPC (overall n=9)</text>
<text x="117.10" y="222.42" font-size="7.5" text-anchor="start" fill="#262626" stroke="#262626" stroke-width="0.22">Control (n=10)</text>
<line x1="186.50" y1="150.40" x2="188.50" y2="150.40" stroke="#444" stroke-width="0.8"/>
<line x1="188.50" y1="150.40" x2="188.50" y2="161.00" stroke="#444" stroke-width="0.8"/>
<line x1="186.50" y1="161.00" x2="188.50" y2="161.00" stroke="#444" stroke-width="0.8"/>
<text x="191.00" y="158.31" font-size="7.3" text-anchor="start" fill="#3c3c3c" stroke="#3c3c3c" stroke-width="0.1">n.s.</text>
<text x="209.10" y="143.44" font-size="9.0" text-anchor="start" fill="#222" stroke="#222" stroke-width="0.1" font-weight="bold">D.</text>
<text x="220.20" y="143.48" font-size="8.6" text-anchor="start" fill="#262626" stroke="#262626" stroke-width="0.2">KPPC</text>
<line x1="232.80" y1="153.50" x2="232.80" y2="222.20" stroke="#555" stroke-width="0.9"/>
<line x1="232.80" y1="230.20" x2="232.80" y2="233.80" stroke="#555" stroke-width="0.9"/>
<line x1="229.80" y1="227.20" x2="235.80" y2="224.20" stroke="#555" stroke-width="0.8"/>
<line x1="229.80" y1="230.20" x2="235.80" y2="227.20" stroke="#555" stroke-width="0.8"/>
<line x1="232.80" y1="154.60" x2="234.60" y2="154.60" stroke="#555" stroke-width="0.8"/>
<text x="230.60" y="157.39" font-size="7.8" text-anchor="end" fill="#3c3c3c" stroke="#3c3c3c" stroke-width="0.1">130</text>
<line x1="232.80" y1="168.30" x2="234.60" y2="168.30" stroke="#555" stroke-width="0.8"/>
<text x="230.60" y="171.09" font-size="7.8" text-anchor="end" fill="#3c3c3c" stroke="#3c3c3c" stroke-width="0.1">120</text>
<line x1="232.80" y1="181.80" x2="234.60" y2="181.80" stroke="#555" stroke-width="0.8"/>
<text x="230.60" y="184.59" font-size="7.8" text-anchor="end" fill="#3c3c3c" stroke="#3c3c3c" stroke-width="0.1">110</text>
<line x1="232.80" y1="195.20" x2="234.60" y2="195.20" stroke="#555" stroke-width="0.8"/>
<text x="230.60" y="197.99" font-size="7.8" text-anchor="end" fill="#3c3c3c" stroke="#3c3c3c" stroke-width="0.1">100</text>
<line x1="232.80" y1="208.20" x2="234.60" y2="208.20" stroke="#555" stroke-width="0.8"/>
<text x="230.60" y="210.99" font-size="7.8" text-anchor="end" fill="#3c3c3c" stroke="#3c3c3c" stroke-width="0.1">90</text>
<line x1="232.80" y1="221.50" x2="234.60" y2="221.50" stroke="#555" stroke-width="0.8"/>
<text x="230.60" y="224.29" font-size="7.8" text-anchor="end" fill="#3c3c3c" stroke="#3c3c3c" stroke-width="0.1">80</text>
<text x="230.60" y="236.59" font-size="7.8" text-anchor="end" fill="#3c3c3c" stroke="#3c3c3c" stroke-width="0.1">0</text>
<line x1="232.80" y1="233.80" x2="266.00" y2="233.80" stroke="#555" stroke-width="0.9"/>
<line x1="243.40" y1="156.90" x2="243.40" y2="168.00" stroke="#141414" stroke-width="0.9"/>
<line x1="241.40" y1="156.90" x2="245.40" y2="156.90" stroke="#141414" stroke-width="0.9"/>
<rect x="238.30" y="168.00" width="10.20" height="65.80" fill="#141414"/>
<line x1="256.40" y1="178.90" x2="256.40" y2="195.20" stroke="#ea2525" stroke-width="0.9"/>
<line x1="254.40" y1="178.90" x2="258.40" y2="178.90" stroke="#ea2525" stroke-width="0.9"/>
<rect x="251.30" y="195.20" width="10.20" height="38.60" fill="#ea2525"/>
<text x="211.90" y="191.52" font-size="7.6" text-anchor="middle" fill="#3c3c3c" stroke="#3c3c3c" stroke-width="0.1" transform="rotate(-90 211.90 188.80)">Distance [meters]</text>
<text x="246.40" y="242.20" font-size="7.8" text-anchor="end" fill="#222" stroke="#222" stroke-width="0.2" transform="rotate(-38 246.40 239.50)">Control</text>
<text x="259.40" y="242.20" font-size="7.8" text-anchor="end" fill="#ea2525" stroke="#ea2525" stroke-width="0.2" transform="rotate(-38 259.40 239.50)">KPPC</text>
<text x="275.80" y="143.44" font-size="9.0" text-anchor="start" fill="#222" stroke="#222" stroke-width="0.1" font-weight="bold">E.</text>
<text x="288.50" y="143.48" font-size="8.6" text-anchor="start" fill="#262626" stroke="#262626" stroke-width="0.2">KPPC</text>
<line x1="300.30" y1="153.50" x2="300.30" y2="222.20" stroke="#555" stroke-width="0.9"/>
<line x1="300.30" y1="230.20" x2="300.30" y2="233.80" stroke="#555" stroke-width="0.9"/>
<line x1="297.30" y1="227.20" x2="303.30" y2="224.20" stroke="#555" stroke-width="0.8"/>
<line x1="297.30" y1="230.20" x2="303.30" y2="227.20" stroke="#555" stroke-width="0.8"/>
<line x1="300.30" y1="155.00" x2="302.10" y2="155.00" stroke="#555" stroke-width="0.8"/>
<text x="298.10" y="157.79" font-size="7.8" text-anchor="end" fill="#3c3c3c" stroke="#3c3c3c" stroke-width="0.1">1.0</text>
<line x1="300.30" y1="174.70" x2="302.10" y2="174.70" stroke="#555" stroke-width="0.8"/>
<text x="298.10" y="177.49" font-size="7.8" text-anchor="end" fill="#3c3c3c" stroke="#3c3c3c" stroke-width="0.1">0.9</text>
<line x1="300.30" y1="194.80" x2="302.10" y2="194.80" stroke="#555" stroke-width="0.8"/>
<text x="298.10" y="197.59" font-size="7.8" text-anchor="end" fill="#3c3c3c" stroke="#3c3c3c" stroke-width="0.1">0.8</text>
<line x1="300.30" y1="214.40" x2="302.10" y2="214.40" stroke="#555" stroke-width="0.8"/>
<text x="298.10" y="217.19" font-size="7.8" text-anchor="end" fill="#3c3c3c" stroke="#3c3c3c" stroke-width="0.1">0.7</text>
<text x="298.10" y="236.59" font-size="7.8" text-anchor="end" fill="#3c3c3c" stroke="#3c3c3c" stroke-width="0.1">0</text>
<line x1="300.30" y1="233.80" x2="332.70" y2="233.80" stroke="#555" stroke-width="0.9"/>
<line x1="309.95" y1="158.10" x2="309.95" y2="167.10" stroke="#141414" stroke-width="0.9"/>
<line x1="307.95" y1="158.10" x2="311.95" y2="158.10" stroke="#141414" stroke-width="0.9"/>
<rect x="305.00" y="167.10" width="9.90" height="66.70" fill="#141414"/>
<line x1="323.00" y1="188.10" x2="323.00" y2="198.80" stroke="#ea2525" stroke-width="0.9"/>
<line x1="321.00" y1="188.10" x2="325.00" y2="188.10" stroke="#ea2525" stroke-width="0.9"/>
<rect x="318.00" y="198.80" width="10.00" height="35.00" fill="#ea2525"/>
<text x="280.60" y="191.52" font-size="7.6" text-anchor="middle" fill="#3c3c3c" stroke="#3c3c3c" stroke-width="0.1" transform="rotate(-90 280.60 188.80)">Max. speed [m/sec]</text>
<text x="312.95" y="242.20" font-size="7.8" text-anchor="end" fill="#222" stroke="#222" stroke-width="0.2" transform="rotate(-38 312.95 239.50)">Control</text>
<text x="326.00" y="242.20" font-size="7.8" text-anchor="end" fill="#ea2525" stroke="#ea2525" stroke-width="0.2" transform="rotate(-38 326.00 239.50)">KPPC</text>
<text x="323.70" y="160.10" font-size="12.5" text-anchor="middle" fill="#222" stroke="#222" stroke-width="0.1">*</text>
<text x="342.40" y="143.44" font-size="9.0" text-anchor="start" fill="#222" stroke="#222" stroke-width="0.1" font-weight="bold">F.</text>
<text x="351.80" y="143.48" font-size="8.6" text-anchor="start" fill="#262626" stroke="#262626" stroke-width="0.2">KPPC</text>
<line x1="366.80" y1="153.50" x2="366.80" y2="222.20" stroke="#555" stroke-width="0.9"/>
<line x1="366.80" y1="230.20" x2="366.80" y2="233.80" stroke="#555" stroke-width="0.9"/>
<line x1="363.80" y1="227.20" x2="369.80" y2="224.20" stroke="#555" stroke-width="0.8"/>
<line x1="363.80" y1="230.20" x2="369.80" y2="227.20" stroke="#555" stroke-width="0.8"/>
<line x1="366.80" y1="155.00" x2="368.60" y2="155.00" stroke="#555" stroke-width="0.8"/>
<text x="364.60" y="157.79" font-size="7.8" text-anchor="end" fill="#3c3c3c" stroke="#3c3c3c" stroke-width="0.1">150</text>
<line x1="366.80" y1="169.50" x2="368.60" y2="169.50" stroke="#555" stroke-width="0.8"/>
<text x="364.60" y="172.29" font-size="7.8" text-anchor="end" fill="#3c3c3c" stroke="#3c3c3c" stroke-width="0.1">125</text>
<line x1="366.80" y1="184.10" x2="368.60" y2="184.10" stroke="#555" stroke-width="0.8"/>
<text x="364.60" y="186.89" font-size="7.8" text-anchor="end" fill="#3c3c3c" stroke="#3c3c3c" stroke-width="0.1">100</text>
<line x1="366.80" y1="199.00" x2="368.60" y2="199.00" stroke="#555" stroke-width="0.8"/>
<text x="364.60" y="201.79" font-size="7.8" text-anchor="end" fill="#3c3c3c" stroke="#3c3c3c" stroke-width="0.1">75</text>
<line x1="366.80" y1="214.40" x2="368.60" y2="214.40" stroke="#555" stroke-width="0.8"/>
<text x="364.60" y="217.19" font-size="7.8" text-anchor="end" fill="#3c3c3c" stroke="#3c3c3c" stroke-width="0.1">50</text>
<text x="364.60" y="236.59" font-size="7.8" text-anchor="end" fill="#3c3c3c" stroke="#3c3c3c" stroke-width="0.1">0</text>
<line x1="366.80" y1="233.80" x2="399.00" y2="233.80" stroke="#555" stroke-width="0.9"/>
<line x1="376.75" y1="195.90" x2="376.75" y2="207.80" stroke="#141414" stroke-width="0.9"/>
<line x1="374.75" y1="195.90" x2="378.75" y2="195.90" stroke="#141414" stroke-width="0.9"/>
<rect x="371.80" y="207.80" width="9.90" height="26.00" fill="#141414"/>
<line x1="389.70" y1="152.20" x2="389.70" y2="169.20" stroke="#ea2525" stroke-width="0.9"/>
<line x1="387.70" y1="152.20" x2="391.70" y2="152.20" stroke="#ea2525" stroke-width="0.9"/>
<rect x="384.60" y="169.20" width="10.20" height="64.60" fill="#ea2525"/>
<text x="344.80" y="191.52" font-size="7.6" text-anchor="middle" fill="#3c3c3c" stroke="#3c3c3c" stroke-width="0.1" transform="rotate(-90 344.80 188.80)">Time immobile [sec]</text>
<text x="379.75" y="242.20" font-size="7.8" text-anchor="end" fill="#222" stroke="#222" stroke-width="0.2" transform="rotate(-38 379.75 239.50)">Control</text>
<text x="392.70" y="242.20" font-size="7.8" text-anchor="end" fill="#ea2525" stroke="#ea2525" stroke-width="0.2" transform="rotate(-38 392.70 239.50)">KPPC</text>
<text x="389.50" y="151.80" font-size="12.5" text-anchor="middle" fill="#222" stroke="#222" stroke-width="0.1">*</text>
<text x="6.10" y="276.00" font-size="8.6" text-anchor="start" fill="#222" stroke="#222" stroke-width="0.1" font-weight="bold">G.</text>
<rect x="41.70" y="270.40" width="88.30" height="18.10" rx="2.5" fill="#fff" stroke="#666" stroke-width="0.9"/>
<line x1="45.90" y1="272.59" x2="45.90" y2="277.99" stroke="#ea2525" stroke-width="0.9"/>
<line x1="44.00" y1="272.59" x2="47.80" y2="272.59" stroke="#ea2525" stroke-width="0.9"/>
<line x1="44.00" y1="277.99" x2="47.80" y2="277.99" stroke="#ea2525" stroke-width="0.9"/>
<circle cx="45.90" cy="275.29" r="1.4" fill="#ea2525"/>
<line x1="45.90" y1="280.37" x2="45.90" y2="285.77" stroke="#141414" stroke-width="0.9"/>
<line x1="44.00" y1="280.37" x2="47.80" y2="280.37" stroke="#141414" stroke-width="0.9"/>
<line x1="44.00" y1="285.77" x2="47.80" y2="285.77" stroke="#141414" stroke-width="0.9"/>
<circle cx="45.90" cy="283.07" r="1.4" fill="#141414"/>
<text x="49.90" y="277.97" font-size="7.5" text-anchor="start" fill="#262626" stroke="#262626" stroke-width="0.22">KPPC (overall n=16)</text>
<text x="49.90" y="285.75" font-size="7.5" text-anchor="start" fill="#262626" stroke="#262626" stroke-width="0.22">Control (overall n=15)</text>
<line x1="39.70" y1="299.00" x2="39.70" y2="374.50" stroke="#555" stroke-width="0.9"/>
<line x1="39.70" y1="300.30" x2="41.50" y2="300.30" stroke="#555" stroke-width="0.8"/>
<text x="37.50" y="303.09" font-size="7.8" text-anchor="end" fill="#3c3c3c" stroke="#3c3c3c" stroke-width="0.1">500</text>
<line x1="39.70" y1="315.80" x2="41.50" y2="315.80" stroke="#555" stroke-width="0.8"/>
<text x="37.50" y="318.59" font-size="7.8" text-anchor="end" fill="#3c3c3c" stroke="#3c3c3c" stroke-width="0.1">400</text>
<line x1="39.70" y1="331.50" x2="41.50" y2="331.50" stroke="#555" stroke-width="0.8"/>
<text x="37.50" y="334.29" font-size="7.8" text-anchor="end" fill="#3c3c3c" stroke="#3c3c3c" stroke-width="0.1">300</text>
<line x1="39.70" y1="346.40" x2="41.50" y2="346.40" stroke="#555" stroke-width="0.8"/>
<text x="37.50" y="349.19" font-size="7.8" text-anchor="end" fill="#3c3c3c" stroke="#3c3c3c" stroke-width="0.1">200</text>
<line x1="39.70" y1="361.60" x2="41.50" y2="361.60" stroke="#555" stroke-width="0.8"/>
<text x="37.50" y="364.39" font-size="7.8" text-anchor="end" fill="#3c3c3c" stroke="#3c3c3c" stroke-width="0.1">100</text>
<line x1="39.70" y1="374.60" x2="41.50" y2="374.60" stroke="#555" stroke-width="0.8"/>
<text x="37.50" y="377.39" font-size="7.8" text-anchor="end" fill="#3c3c3c" stroke="#3c3c3c" stroke-width="0.1">0</text>
<line x1="39.70" y1="374.50" x2="119.50" y2="374.50" stroke="#555" stroke-width="0.9"/>
<text x="50.10" y="382.12" font-size="7.6" text-anchor="middle" fill="#3c3c3c" stroke="#3c3c3c" stroke-width="0.1">9</text>
<text x="64.80" y="382.12" font-size="7.6" text-anchor="middle" fill="#3c3c3c" stroke="#3c3c3c" stroke-width="0.1">10</text>
<text x="79.80" y="382.12" font-size="7.6" text-anchor="middle" fill="#3c3c3c" stroke="#3c3c3c" stroke-width="0.1">11</text>
<text x="95.00" y="382.12" font-size="7.6" text-anchor="middle" fill="#3c3c3c" stroke="#3c3c3c" stroke-width="0.1">12</text>
<text x="109.70" y="382.12" font-size="7.6" text-anchor="middle" fill="#3c3c3c" stroke="#3c3c3c" stroke-width="0.1">13</text>
<text x="81.90" y="391.02" font-size="7.6" text-anchor="middle" fill="#3c3c3c" stroke="#3c3c3c" stroke-width="0.1">Weeks after birth</text>
<text x="8.60" y="338.62" font-size="7.6" text-anchor="middle" fill="#3c3c3c" stroke="#3c3c3c" stroke-width="0.1" transform="rotate(-90 8.60 335.90)">Frequency of climbing</text>
<text x="16.90" y="338.62" font-size="7.6" text-anchor="middle" fill="#3c3c3c" stroke="#3c3c3c" stroke-width="0.1" transform="rotate(-90 16.90 335.90)">[n / 24 hours]</text>
<polyline points="47.30,354.30 62.50,353.50 77.20,357.50 92.50,352.40 107.20,370.20" fill="none" stroke="#ea2525" stroke-width="1.0" stroke-linejoin="round"/>
<line x1="47.30" y1="346.90" x2="47.30" y2="361.60" stroke="#ea2525" stroke-width="0.9"/>
<line x1="45.60" y1="346.90" x2="49.00" y2="346.90" stroke="#ea2525" stroke-width="0.9"/>
<line x1="45.60" y1="361.60" x2="49.00" y2="361.60" stroke="#ea2525" stroke-width="0.9"/>
<circle cx="47.30" cy="354.30" r="1.3" fill="#ea2525"/>
<line x1="62.50" y1="348.60" x2="62.50" y2="358.00" stroke="#ea2525" stroke-width="0.9"/>
<line x1="60.80" y1="348.60" x2="64.20" y2="348.60" stroke="#ea2525" stroke-width="0.9"/>
<line x1="60.80" y1="358.00" x2="64.20" y2="358.00" stroke="#ea2525" stroke-width="0.9"/>
<circle cx="62.50" cy="353.50" r="1.3" fill="#ea2525"/>
<line x1="77.20" y1="353.00" x2="77.20" y2="362.80" stroke="#ea2525" stroke-width="0.9"/>
<line x1="75.50" y1="353.00" x2="78.90" y2="353.00" stroke="#ea2525" stroke-width="0.9"/>
<line x1="75.50" y1="362.80" x2="78.90" y2="362.80" stroke="#ea2525" stroke-width="0.9"/>
<circle cx="77.20" cy="357.50" r="1.3" fill="#ea2525"/>
<circle cx="92.50" cy="352.40" r="1.2" fill="#ea2525"/>
<circle cx="107.20" cy="370.20" r="1.2" fill="#ea2525"/>
<polyline points="52.20,316.80 67.40,325.60 82.10,329.00 97.10,317.70 112.10,327.60" fill="none" stroke="#141414" stroke-width="1.0" stroke-linejoin="round"/>
<line x1="52.20" y1="302.00" x2="52.20" y2="331.50" stroke="#141414" stroke-width="0.9"/>
<line x1="50.50" y1="302.00" x2="53.90" y2="302.00" stroke="#141414" stroke-width="0.9"/>
<line x1="50.50" y1="331.50" x2="53.90" y2="331.50" stroke="#141414" stroke-width="0.9"/>
<circle cx="52.20" cy="316.80" r="1.3" fill="#141414"/>
<line x1="67.40" y1="318.70" x2="67.40" y2="333.00" stroke="#141414" stroke-width="0.9"/>
<line x1="65.70" y1="318.70" x2="69.10" y2="318.70" stroke="#141414" stroke-width="0.9"/>
<line x1="65.70" y1="333.00" x2="69.10" y2="333.00" stroke="#141414" stroke-width="0.9"/>
<circle cx="67.40" cy="325.60" r="1.3" fill="#141414"/>
<line x1="82.10" y1="323.00" x2="82.10" y2="334.70" stroke="#141414" stroke-width="0.9"/>
<line x1="80.40" y1="323.00" x2="83.80" y2="323.00" stroke="#141414" stroke-width="0.9"/>
<line x1="80.40" y1="334.70" x2="83.80" y2="334.70" stroke="#141414" stroke-width="0.9"/>
<circle cx="82.10" cy="329.00" r="1.3" fill="#141414"/>
<line x1="97.10" y1="304.20" x2="97.10" y2="331.90" stroke="#141414" stroke-width="0.9"/>
<line x1="95.40" y1="304.20" x2="98.80" y2="304.20" stroke="#141414" stroke-width="0.9"/>
<line x1="95.40" y1="331.90" x2="98.80" y2="331.90" stroke="#141414" stroke-width="0.9"/>
<circle cx="97.10" cy="317.70" r="1.3" fill="#141414"/>
<line x1="112.10" y1="317.00" x2="112.10" y2="338.20" stroke="#141414" stroke-width="0.9"/>
<line x1="110.40" y1="317.00" x2="113.80" y2="317.00" stroke="#141414" stroke-width="0.9"/>
<line x1="110.40" y1="338.20" x2="113.80" y2="338.20" stroke="#141414" stroke-width="0.9"/>
<circle cx="112.10" cy="327.60" r="1.3" fill="#141414"/>
<text x="52.20" y="340.06" font-size="6.3" text-anchor="middle" fill="#444" stroke="#444" stroke-width="0.05" font-style="italic">(6)</text>
<text x="66.70" y="340.06" font-size="6.3" text-anchor="middle" fill="#444" stroke="#444" stroke-width="0.05" font-style="italic">(8)</text>
<text x="82.10" y="343.06" font-size="6.3" text-anchor="middle" fill="#444" stroke="#444" stroke-width="0.05" font-style="italic">(15)</text>
<text x="96.10" y="337.66" font-size="6.3" text-anchor="middle" fill="#444" stroke="#444" stroke-width="0.05" font-style="italic">(10)</text>
<text x="111.40" y="346.66" font-size="6.3" text-anchor="middle" fill="#444" stroke="#444" stroke-width="0.05" font-style="italic">(5)</text>
<text x="47.00" y="368.76" font-size="6.3" text-anchor="middle" fill="#ea2525" stroke="#ea2525" stroke-width="0.05" font-style="italic">(7)</text>
<text x="61.80" y="364.66" font-size="6.3" text-anchor="middle" fill="#ea2525" stroke="#ea2525" stroke-width="0.05" font-style="italic">(10)</text>
<text x="76.50" y="368.76" font-size="6.3" text-anchor="middle" fill="#ea2525" stroke="#ea2525" stroke-width="0.05" font-style="italic">(9)</text>
<text x="90.60" y="361.26" font-size="6.3" text-anchor="middle" fill="#ea2525" stroke="#ea2525" stroke-width="0.05" font-style="italic">(1)</text>
<text x="109.60" y="366.46" font-size="6.3" text-anchor="middle" fill="#ea2525" stroke="#ea2525" stroke-width="0.05" font-style="italic">(1)</text>
<line x1="117.10" y1="327.50" x2="119.60" y2="327.50" stroke="#444" stroke-width="0.8"/>
<line x1="119.60" y1="327.50" x2="119.60" y2="370.30" stroke="#444" stroke-width="0.8"/>
<line x1="117.10" y1="370.30" x2="119.60" y2="370.30" stroke="#444" stroke-width="0.8"/>
<text x="127.00" y="351.02" font-size="7" text-anchor="middle" fill="#333" stroke="#333" stroke-width="0.1">***</text>
<text x="140.00" y="276.00" font-size="8.6" text-anchor="start" fill="#222" stroke="#222" stroke-width="0.1" font-weight="bold">H.</text>
<rect x="174.60" y="270.40" width="89.00" height="18.10" rx="2.5" fill="#fff" stroke="#666" stroke-width="0.9"/>
<line x1="178.80" y1="272.59" x2="178.80" y2="277.99" stroke="#ea2525" stroke-width="0.9"/>
<line x1="176.90" y1="272.59" x2="180.70" y2="272.59" stroke="#ea2525" stroke-width="0.9"/>
<line x1="176.90" y1="277.99" x2="180.70" y2="277.99" stroke="#ea2525" stroke-width="0.9"/>
<circle cx="178.80" cy="275.29" r="1.4" fill="#ea2525"/>
<line x1="178.80" y1="280.37" x2="178.80" y2="285.77" stroke="#141414" stroke-width="0.9"/>
<line x1="176.90" y1="280.37" x2="180.70" y2="280.37" stroke="#141414" stroke-width="0.9"/>
<line x1="176.90" y1="285.77" x2="180.70" y2="285.77" stroke="#141414" stroke-width="0.9"/>
<circle cx="178.80" cy="283.07" r="1.4" fill="#141414"/>
<text x="182.80" y="277.97" font-size="7.5" text-anchor="start" fill="#262626" stroke="#262626" stroke-width="0.22">KPPC (overall n=16)</text>
<text x="182.80" y="285.75" font-size="7.5" text-anchor="start" fill="#262626" stroke="#262626" stroke-width="0.22">Control (overall n=15)</text>
<line x1="172.70" y1="299.00" x2="172.70" y2="374.30" stroke="#555" stroke-width="0.9"/>
<line x1="172.70" y1="299.90" x2="174.50" y2="299.90" stroke="#555" stroke-width="0.8"/>
<text x="170.50" y="302.69" font-size="7.8" text-anchor="end" fill="#3c3c3c" stroke="#3c3c3c" stroke-width="0.1">100</text>
<line x1="172.70" y1="316.00" x2="174.50" y2="316.00" stroke="#555" stroke-width="0.8"/>
<text x="170.50" y="318.79" font-size="7.8" text-anchor="end" fill="#3c3c3c" stroke="#3c3c3c" stroke-width="0.1">80</text>
<line x1="172.70" y1="331.10" x2="174.50" y2="331.10" stroke="#555" stroke-width="0.8"/>
<text x="170.50" y="333.89" font-size="7.8" text-anchor="end" fill="#3c3c3c" stroke="#3c3c3c" stroke-width="0.1">60</text>
<line x1="172.70" y1="346.70" x2="174.50" y2="346.70" stroke="#555" stroke-width="0.8"/>
<text x="170.50" y="349.49" font-size="7.8" text-anchor="end" fill="#3c3c3c" stroke="#3c3c3c" stroke-width="0.1">40</text>
<line x1="172.70" y1="361.90" x2="174.50" y2="361.90" stroke="#555" stroke-width="0.8"/>
<text x="170.50" y="364.69" font-size="7.8" text-anchor="end" fill="#3c3c3c" stroke="#3c3c3c" stroke-width="0.1">20</text>
<line x1="172.70" y1="374.40" x2="174.50" y2="374.40" stroke="#555" stroke-width="0.8"/>
<text x="170.50" y="377.19" font-size="7.8" text-anchor="end" fill="#3c3c3c" stroke="#3c3c3c" stroke-width="0.1">0</text>
<line x1="172.70" y1="374.30" x2="253.20" y2="374.30" stroke="#555" stroke-width="0.9"/>
<text x="182.60" y="382.12" font-size="7.6" text-anchor="middle" fill="#3c3c3c" stroke="#3c3c3c" stroke-width="0.1">9</text>
<text x="198.10" y="382.12" font-size="7.6" text-anchor="middle" fill="#3c3c3c" stroke="#3c3c3c" stroke-width="0.1">10</text>
<text x="212.80" y="382.12" font-size="7.6" text-anchor="middle" fill="#3c3c3c" stroke="#3c3c3c" stroke-width="0.1">11</text>
<text x="228.20" y="382.12" font-size="7.6" text-anchor="middle" fill="#3c3c3c" stroke="#3c3c3c" stroke-width="0.1">12</text>
<text x="242.90" y="382.12" font-size="7.6" text-anchor="middle" fill="#3c3c3c" stroke="#3c3c3c" stroke-width="0.1">13</text>
<text x="215.00" y="391.02" font-size="7.6" text-anchor="middle" fill="#3c3c3c" stroke="#3c3c3c" stroke-width="0.1">Weeks after birth</text>
<text x="142.30" y="339.32" font-size="7.6" text-anchor="middle" fill="#3c3c3c" stroke="#3c3c3c" stroke-width="0.1" transform="rotate(-90 142.30 336.60)">Duration of locomotion</text>
<text x="150.80" y="339.32" font-size="7.6" text-anchor="middle" fill="#3c3c3c" stroke="#3c3c3c" stroke-width="0.1" transform="rotate(-90 150.80 336.60)">[min / 24 hours]</text>
<polyline points="180.50,344.40 195.10,354.80 210.40,355.50 225.30,344.90 239.90,363.80" fill="none" stroke="#ea2525" stroke-width="1.0" stroke-linejoin="round"/>
<line x1="180.50" y1="339.00" x2="180.50" y2="349.60" stroke="#ea2525" stroke-width="0.9"/>
<line x1="178.80" y1="339.00" x2="182.20" y2="339.00" stroke="#ea2525" stroke-width="0.9"/>
<line x1="178.80" y1="349.60" x2="182.20" y2="349.60" stroke="#ea2525" stroke-width="0.9"/>
<circle cx="180.50" cy="344.40" r="1.3" fill="#ea2525"/>
<line x1="195.10" y1="349.10" x2="195.10" y2="360.20" stroke="#ea2525" stroke-width="0.9"/>
<line x1="193.40" y1="349.10" x2="196.80" y2="349.10" stroke="#ea2525" stroke-width="0.9"/>
<line x1="193.40" y1="360.20" x2="196.80" y2="360.20" stroke="#ea2525" stroke-width="0.9"/>
<circle cx="195.10" cy="354.80" r="1.3" fill="#ea2525"/>
<line x1="210.40" y1="348.40" x2="210.40" y2="362.60" stroke="#ea2525" stroke-width="0.9"/>
<line x1="208.70" y1="348.40" x2="212.10" y2="348.40" stroke="#ea2525" stroke-width="0.9"/>
<line x1="208.70" y1="362.60" x2="212.10" y2="362.60" stroke="#ea2525" stroke-width="0.9"/>
<circle cx="210.40" cy="355.50" r="1.3" fill="#ea2525"/>
<circle cx="225.30" cy="344.90" r="1.2" fill="#ea2525"/>
<circle cx="239.90" cy="363.80" r="1.2" fill="#ea2525"/>
<polyline points="185.70,324.00 200.30,335.60 215.10,337.30 230.00,334.90 244.70,332.60" fill="none" stroke="#141414" stroke-width="1.0" stroke-linejoin="round"/>
<line x1="185.70" y1="318.40" x2="185.70" y2="329.50" stroke="#141414" stroke-width="0.9"/>
<line x1="184.00" y1="318.40" x2="187.40" y2="318.40" stroke="#141414" stroke-width="0.9"/>
<line x1="184.00" y1="329.50" x2="187.40" y2="329.50" stroke="#141414" stroke-width="0.9"/>
<circle cx="185.70" cy="324.00" r="1.3" fill="#141414"/>
<line x1="200.30" y1="332.60" x2="200.30" y2="339.00" stroke="#141414" stroke-width="0.9"/>
<line x1="198.60" y1="332.60" x2="202.00" y2="332.60" stroke="#141414" stroke-width="0.9"/>
<line x1="198.60" y1="339.00" x2="202.00" y2="339.00" stroke="#141414" stroke-width="0.9"/>
<circle cx="200.30" cy="335.60" r="1.3" fill="#141414"/>
<line x1="215.10" y1="333.00" x2="215.10" y2="341.50" stroke="#141414" stroke-width="0.9"/>
<line x1="213.40" y1="333.00" x2="216.80" y2="333.00" stroke="#141414" stroke-width="0.9"/>
<line x1="213.40" y1="341.50" x2="216.80" y2="341.50" stroke="#141414" stroke-width="0.9"/>
<circle cx="215.10" cy="337.30" r="1.3" fill="#141414"/>
<line x1="230.00" y1="331.00" x2="230.00" y2="339.00" stroke="#141414" stroke-width="0.9"/>
<line x1="228.30" y1="331.00" x2="231.70" y2="331.00" stroke="#141414" stroke-width="0.9"/>
<line x1="228.30" y1="339.00" x2="231.70" y2="339.00" stroke="#141414" stroke-width="0.9"/>
<circle cx="230.00" cy="334.90" r="1.3" fill="#141414"/>
<line x1="244.70" y1="328.50" x2="244.70" y2="337.00" stroke="#141414" stroke-width="0.9"/>
<line x1="243.00" y1="328.50" x2="246.40" y2="328.50" stroke="#141414" stroke-width="0.9"/>
<line x1="243.00" y1="337.00" x2="246.40" y2="337.00" stroke="#141414" stroke-width="0.9"/>
<circle cx="244.70" cy="332.60" r="1.3" fill="#141414"/>
<text x="186.10" y="315.16" font-size="6.3" text-anchor="middle" fill="#444" stroke="#444" stroke-width="0.05" font-style="italic">(6)</text>
<text x="200.60" y="330.26" font-size="6.3" text-anchor="middle" fill="#444" stroke="#444" stroke-width="0.05" font-style="italic">(8)</text>
<text x="215.10" y="330.56" font-size="6.3" text-anchor="middle" fill="#444" stroke="#444" stroke-width="0.05" font-style="italic">(15)</text>
<text x="230.00" y="328.66" font-size="6.3" text-anchor="middle" fill="#444" stroke="#444" stroke-width="0.05" font-style="italic">(10)</text>
<text x="244.70" y="326.26" font-size="6.3" text-anchor="middle" fill="#444" stroke="#444" stroke-width="0.05" font-style="italic">(5)</text>
<text x="180.50" y="356.56" font-size="6.3" text-anchor="middle" fill="#ea2525" stroke="#ea2525" stroke-width="0.05" font-style="italic">(7)</text>
<text x="195.10" y="368.36" font-size="6.3" text-anchor="middle" fill="#ea2525" stroke="#ea2525" stroke-width="0.05" font-style="italic">(10)</text>
<text x="209.70" y="370.26" font-size="6.3" text-anchor="middle" fill="#ea2525" stroke="#ea2525" stroke-width="0.05" font-style="italic">(9)</text>
<text x="223.80" y="356.56" font-size="6.3" text-anchor="middle" fill="#ea2525" stroke="#ea2525" stroke-width="0.05" font-style="italic">(1)</text>
<text x="239.50" y="371.96" font-size="6.3" text-anchor="middle" fill="#ea2525" stroke="#ea2525" stroke-width="0.05" font-style="italic">(1)</text>
<line x1="250.70" y1="332.70" x2="253.20" y2="332.70" stroke="#444" stroke-width="0.8"/>
<line x1="253.20" y1="332.70" x2="253.20" y2="364.50" stroke="#444" stroke-width="0.8"/>
<line x1="250.70" y1="364.50" x2="253.20" y2="364.50" stroke="#444" stroke-width="0.8"/>
<text x="259.80" y="350.72" font-size="7" text-anchor="middle" fill="#333" stroke="#333" stroke-width="0.1">***</text>
<text x="273.80" y="275.30" font-size="8.6" text-anchor="start" fill="#222" stroke="#222" stroke-width="0.1" font-weight="bold">I.</text>
<rect x="309.50" y="270.60" width="87.20" height="17.70" rx="2.5" fill="#fff" stroke="#666" stroke-width="0.9"/>
<line x1="313.70" y1="272.68" x2="313.70" y2="278.08" stroke="#ea2525" stroke-width="0.9"/>
<line x1="311.80" y1="272.68" x2="315.60" y2="272.68" stroke="#ea2525" stroke-width="0.9"/>
<line x1="311.80" y1="278.08" x2="315.60" y2="278.08" stroke="#ea2525" stroke-width="0.9"/>
<circle cx="313.70" cy="275.38" r="1.4" fill="#ea2525"/>
<line x1="313.70" y1="280.29" x2="313.70" y2="285.69" stroke="#141414" stroke-width="0.9"/>
<line x1="311.80" y1="280.29" x2="315.60" y2="280.29" stroke="#141414" stroke-width="0.9"/>
<line x1="311.80" y1="285.69" x2="315.60" y2="285.69" stroke="#141414" stroke-width="0.9"/>
<circle cx="313.70" cy="282.99" r="1.4" fill="#141414"/>
<text x="317.70" y="278.06" font-size="7.5" text-anchor="start" fill="#262626" stroke="#262626" stroke-width="0.22">KPPC (overall n=16)</text>
<text x="317.70" y="285.68" font-size="7.5" text-anchor="start" fill="#262626" stroke="#262626" stroke-width="0.22">Control (overall n=15)</text>
<line x1="305.80" y1="294.90" x2="305.80" y2="366.80" stroke="#555" stroke-width="0.9"/>
<line x1="305.80" y1="374.30" x2="305.80" y2="378.80" stroke="#555" stroke-width="0.9"/>
<line x1="302.80" y1="371.30" x2="308.80" y2="368.30" stroke="#555" stroke-width="0.8"/>
<line x1="302.80" y1="374.30" x2="308.80" y2="371.30" stroke="#555" stroke-width="0.8"/>
<line x1="305.80" y1="295.70" x2="307.60" y2="295.70" stroke="#555" stroke-width="0.8"/>
<text x="303.60" y="298.49" font-size="7.8" text-anchor="end" fill="#3c3c3c" stroke="#3c3c3c" stroke-width="0.1">1000</text>
<line x1="305.80" y1="310.60" x2="307.60" y2="310.60" stroke="#555" stroke-width="0.8"/>
<text x="303.60" y="313.39" font-size="7.8" text-anchor="end" fill="#3c3c3c" stroke="#3c3c3c" stroke-width="0.1">900</text>
<line x1="305.80" y1="325.90" x2="307.60" y2="325.90" stroke="#555" stroke-width="0.8"/>
<text x="303.60" y="328.69" font-size="7.8" text-anchor="end" fill="#3c3c3c" stroke="#3c3c3c" stroke-width="0.1">800</text>
<line x1="305.80" y1="341.30" x2="307.60" y2="341.30" stroke="#555" stroke-width="0.8"/>
<text x="303.60" y="344.09" font-size="7.8" text-anchor="end" fill="#3c3c3c" stroke="#3c3c3c" stroke-width="0.1">700</text>
<line x1="305.80" y1="357.10" x2="307.60" y2="357.10" stroke="#555" stroke-width="0.8"/>
<text x="303.60" y="359.89" font-size="7.8" text-anchor="end" fill="#3c3c3c" stroke="#3c3c3c" stroke-width="0.1">600</text>
<line x1="305.80" y1="378.30" x2="307.60" y2="378.30" stroke="#555" stroke-width="0.8"/>
<text x="303.60" y="381.09" font-size="7.8" text-anchor="end" fill="#3c3c3c" stroke="#3c3c3c" stroke-width="0.1">0</text>
<line x1="305.80" y1="378.80" x2="386.40" y2="378.80" stroke="#555" stroke-width="0.9"/>
<text x="316.40" y="387.42" font-size="7.6" text-anchor="middle" fill="#3c3c3c" stroke="#3c3c3c" stroke-width="0.1">9</text>
<text x="331.20" y="387.42" font-size="7.6" text-anchor="middle" fill="#3c3c3c" stroke="#3c3c3c" stroke-width="0.1">10</text>
<text x="347.10" y="387.42" font-size="7.6" text-anchor="middle" fill="#3c3c3c" stroke="#3c3c3c" stroke-width="0.1">11</text>
<text x="362.20" y="387.42" font-size="7.6" text-anchor="middle" fill="#3c3c3c" stroke="#3c3c3c" stroke-width="0.1">12</text>
<text x="377.30" y="387.42" font-size="7.6" text-anchor="middle" fill="#3c3c3c" stroke="#3c3c3c" stroke-width="0.1">13</text>
<text x="345.50" y="395.32" font-size="7.6" text-anchor="middle" fill="#3c3c3c" stroke="#3c3c3c" stroke-width="0.1">Weeks after birth</text>
<text x="275.60" y="345.22" font-size="7.6" text-anchor="middle" fill="#3c3c3c" stroke="#3c3c3c" stroke-width="0.1" transform="rotate(-90 275.60 342.50)">Duration of immobility</text>
<text x="284.10" y="345.22" font-size="7.6" text-anchor="middle" fill="#3c3c3c" stroke="#3c3c3c" stroke-width="0.1" transform="rotate(-90 284.10 342.50)">[min / 24 hours]</text>
<polyline points="318.60,328.70 333.70,314.00 348.40,310.60 363.00,331.20 378.10,304.00" fill="none" stroke="#ea2525" stroke-width="1.0" stroke-linejoin="round"/>
<line x1="318.60" y1="320.00" x2="318.60" y2="337.30" stroke="#ea2525" stroke-width="0.9"/>
<line x1="316.90" y1="320.00" x2="320.30" y2="320.00" stroke="#ea2525" stroke-width="0.9"/>
<line x1="316.90" y1="337.30" x2="320.30" y2="337.30" stroke="#ea2525" stroke-width="0.9"/>
<circle cx="318.60" cy="328.70" r="1.3" fill="#ea2525"/>
<line x1="333.70" y1="299.90" x2="333.70" y2="328.30" stroke="#ea2525" stroke-width="0.9"/>
<line x1="332.00" y1="299.90" x2="335.40" y2="299.90" stroke="#ea2525" stroke-width="0.9"/>
<line x1="332.00" y1="328.30" x2="335.40" y2="328.30" stroke="#ea2525" stroke-width="0.9"/>
<circle cx="333.70" cy="314.00" r="1.3" fill="#ea2525"/>
<line x1="348.40" y1="296.00" x2="348.40" y2="324.30" stroke="#ea2525" stroke-width="0.9"/>
<line x1="346.70" y1="296.00" x2="350.10" y2="296.00" stroke="#ea2525" stroke-width="0.9"/>
<line x1="346.70" y1="324.30" x2="350.10" y2="324.30" stroke="#ea2525" stroke-width="0.9"/>
<circle cx="348.40" cy="310.60" r="1.3" fill="#ea2525"/>
<circle cx="363.00" cy="331.20" r="1.2" fill="#ea2525"/>
<circle cx="378.10" cy="304.00" r="1.2" fill="#ea2525"/>
<polyline points="313.90,363.20 328.70,353.00 343.70,355.00 358.80,355.00 373.60,355.00" fill="none" stroke="#141414" stroke-width="1.0" stroke-linejoin="round"/>
<line x1="313.90" y1="358.50" x2="313.90" y2="368.00" stroke="#141414" stroke-width="0.9"/>
<line x1="312.20" y1="358.50" x2="315.60" y2="358.50" stroke="#141414" stroke-width="0.9"/>
<line x1="312.20" y1="368.00" x2="315.60" y2="368.00" stroke="#141414" stroke-width="0.9"/>
<circle cx="313.90" cy="363.20" r="1.3" fill="#141414"/>
<line x1="328.70" y1="348.40" x2="328.70" y2="357.10" stroke="#141414" stroke-width="0.9"/>
<line x1="327.00" y1="348.40" x2="330.40" y2="348.40" stroke="#141414" stroke-width="0.9"/>
<line x1="327.00" y1="357.10" x2="330.40" y2="357.10" stroke="#141414" stroke-width="0.9"/>
<circle cx="328.70" cy="353.00" r="1.3" fill="#141414"/>
<line x1="343.70" y1="350.80" x2="343.70" y2="358.80" stroke="#141414" stroke-width="0.9"/>
<line x1="342.00" y1="350.80" x2="345.40" y2="350.80" stroke="#141414" stroke-width="0.9"/>
<line x1="342.00" y1="358.80" x2="345.40" y2="358.80" stroke="#141414" stroke-width="0.9"/>
<circle cx="343.70" cy="355.00" r="1.3" fill="#141414"/>
<line x1="358.80" y1="347.60" x2="358.80" y2="362.20" stroke="#141414" stroke-width="0.9"/>
<line x1="357.10" y1="347.60" x2="360.50" y2="347.60" stroke="#141414" stroke-width="0.9"/>
<line x1="357.10" y1="362.20" x2="360.50" y2="362.20" stroke="#141414" stroke-width="0.9"/>
<circle cx="358.80" cy="355.00" r="1.3" fill="#141414"/>
<line x1="373.60" y1="350.80" x2="373.60" y2="358.80" stroke="#141414" stroke-width="0.9"/>
<line x1="371.90" y1="350.80" x2="375.30" y2="350.80" stroke="#141414" stroke-width="0.9"/>
<line x1="371.90" y1="358.80" x2="375.30" y2="358.80" stroke="#141414" stroke-width="0.9"/>
<circle cx="373.60" cy="355.00" r="1.3" fill="#141414"/>
<text x="314.60" y="356.56" font-size="6.3" text-anchor="middle" fill="#444" stroke="#444" stroke-width="0.05" font-style="italic">(6)</text>
<text x="329.30" y="346.96" font-size="6.3" text-anchor="middle" fill="#444" stroke="#444" stroke-width="0.05" font-style="italic">(8)</text>
<text x="344.50" y="348.56" font-size="6.3" text-anchor="middle" fill="#444" stroke="#444" stroke-width="0.05" font-style="italic">(15)</text>
<text x="358.80" y="345.96" font-size="6.3" text-anchor="middle" fill="#444" stroke="#444" stroke-width="0.05" font-style="italic">(10)</text>
<text x="374.10" y="347.26" font-size="6.3" text-anchor="middle" fill="#444" stroke="#444" stroke-width="0.05" font-style="italic">(5)</text>
<text x="318.80" y="315.06" font-size="6.3" text-anchor="middle" fill="#ea2525" stroke="#ea2525" stroke-width="0.05" font-style="italic">(7)</text>
<text x="340.10" y="309.96" font-size="6.3" text-anchor="middle" fill="#ea2525" stroke="#ea2525" stroke-width="0.05" font-style="italic">(10)</text>
<text x="352.90" y="309.66" font-size="6.3" text-anchor="middle" fill="#ea2525" stroke="#ea2525" stroke-width="0.05" font-style="italic">(9)</text>
<text x="363.50" y="320.76" font-size="6.3" text-anchor="middle" fill="#ea2525" stroke="#ea2525" stroke-width="0.05" font-style="italic">(1)</text>
<text x="380.50" y="312.86" font-size="6.3" text-anchor="middle" fill="#ea2525" stroke="#ea2525" stroke-width="0.05" font-style="italic">(1)</text>
<line x1="387.30" y1="303.50" x2="389.80" y2="303.50" stroke="#444" stroke-width="0.8"/>
<line x1="389.80" y1="303.50" x2="389.80" y2="354.30" stroke="#444" stroke-width="0.8"/>
<line x1="387.30" y1="354.30" x2="389.80" y2="354.30" stroke="#444" stroke-width="0.8"/>
<text x="397.50" y="331.22" font-size="7" text-anchor="middle" fill="#333" stroke="#333" stroke-width="0.1">***</text>
<text x="7.20" y="423.10" font-size="8.6" text-anchor="start" fill="#222" stroke="#222" stroke-width="0.1" font-weight="bold">J.</text>
<rect x="42.30" y="417.40" width="88.10" height="17.60" rx="2.5" fill="#fff" stroke="#666" stroke-width="0.9"/>
<line x1="46.50" y1="419.45" x2="46.50" y2="424.85" stroke="#ea2525" stroke-width="0.9"/>
<line x1="44.60" y1="419.45" x2="48.40" y2="419.45" stroke="#ea2525" stroke-width="0.9"/>
<line x1="44.60" y1="424.85" x2="48.40" y2="424.85" stroke="#ea2525" stroke-width="0.9"/>
<circle cx="46.50" cy="422.15" r="1.4" fill="#ea2525"/>
<line x1="46.50" y1="427.02" x2="46.50" y2="432.42" stroke="#141414" stroke-width="0.9"/>
<line x1="44.60" y1="427.02" x2="48.40" y2="427.02" stroke="#141414" stroke-width="0.9"/>
<line x1="44.60" y1="432.42" x2="48.40" y2="432.42" stroke="#141414" stroke-width="0.9"/>
<circle cx="46.50" cy="429.72" r="1.4" fill="#141414"/>
<text x="50.50" y="424.84" font-size="7.5" text-anchor="start" fill="#262626" stroke="#262626" stroke-width="0.22">KPPC (overall n=16)</text>
<text x="50.50" y="432.40" font-size="7.5" text-anchor="start" fill="#262626" stroke="#262626" stroke-width="0.22">Control (overall n=15)</text>
<line x1="40.40" y1="439.60" x2="40.40" y2="514.00" stroke="#555" stroke-width="0.9"/>
<line x1="40.40" y1="521.50" x2="40.40" y2="525.60" stroke="#555" stroke-width="0.9"/>
<line x1="37.40" y1="518.50" x2="43.40" y2="515.50" stroke="#555" stroke-width="0.8"/>
<line x1="37.40" y1="521.50" x2="43.40" y2="518.50" stroke="#555" stroke-width="0.8"/>
<line x1="40.40" y1="449.10" x2="42.20" y2="449.10" stroke="#555" stroke-width="0.8"/>
<text x="38.20" y="451.89" font-size="7.8" text-anchor="end" fill="#3c3c3c" stroke="#3c3c3c" stroke-width="0.1">300</text>
<line x1="40.40" y1="479.70" x2="42.20" y2="479.70" stroke="#555" stroke-width="0.8"/>
<text x="38.20" y="482.49" font-size="7.8" text-anchor="end" fill="#3c3c3c" stroke="#3c3c3c" stroke-width="0.1">200</text>
<line x1="40.40" y1="510.60" x2="42.20" y2="510.60" stroke="#555" stroke-width="0.8"/>
<text x="38.20" y="513.39" font-size="7.8" text-anchor="end" fill="#3c3c3c" stroke="#3c3c3c" stroke-width="0.1">100</text>
<line x1="40.40" y1="525.60" x2="42.20" y2="525.60" stroke="#555" stroke-width="0.8"/>
<text x="38.20" y="528.39" font-size="7.8" text-anchor="end" fill="#3c3c3c" stroke="#3c3c3c" stroke-width="0.1">0</text>
<line x1="40.40" y1="525.60" x2="120.10" y2="525.60" stroke="#555" stroke-width="0.9"/>
<text x="49.70" y="534.12" font-size="7.6" text-anchor="middle" fill="#3c3c3c" stroke="#3c3c3c" stroke-width="0.1">9</text>
<text x="65.20" y="534.12" font-size="7.6" text-anchor="middle" fill="#3c3c3c" stroke="#3c3c3c" stroke-width="0.1">10</text>
<text x="80.50" y="534.12" font-size="7.6" text-anchor="middle" fill="#3c3c3c" stroke="#3c3c3c" stroke-width="0.1">11</text>
<text x="95.00" y="534.12" font-size="7.6" text-anchor="middle" fill="#3c3c3c" stroke="#3c3c3c" stroke-width="0.1">12</text>
<text x="109.70" y="534.12" font-size="7.6" text-anchor="middle" fill="#3c3c3c" stroke="#3c3c3c" stroke-width="0.1">13</text>
<text x="81.50" y="542.52" font-size="7.6" text-anchor="middle" fill="#3c3c3c" stroke="#3c3c3c" stroke-width="0.1">Weeks after birth</text>
<text x="8.20" y="490.12" font-size="7.6" text-anchor="middle" fill="#3c3c3c" stroke="#3c3c3c" stroke-width="0.1" transform="rotate(-90 8.20 487.40)">Distance</text>
<text x="17.10" y="490.12" font-size="7.6" text-anchor="middle" fill="#3c3c3c" stroke="#3c3c3c" stroke-width="0.1" transform="rotate(-90 17.10 487.40)">[meter in 24hours]</text>
<polyline points="47.00,475.10 62.30,486.80 76.90,486.80 92.20,473.70 106.40,505.10" fill="none" stroke="#ea2525" stroke-width="1.0" stroke-linejoin="round"/>
<line x1="47.00" y1="464.20" x2="47.00" y2="484.60" stroke="#ea2525" stroke-width="0.9"/>
<line x1="45.30" y1="464.20" x2="48.70" y2="464.20" stroke="#ea2525" stroke-width="0.9"/>
<line x1="45.30" y1="484.60" x2="48.70" y2="484.60" stroke="#ea2525" stroke-width="0.9"/>
<circle cx="47.00" cy="475.10" r="1.3" fill="#ea2525"/>
<line x1="62.30" y1="476.50" x2="62.30" y2="496.10" stroke="#ea2525" stroke-width="0.9"/>
<line x1="60.60" y1="476.50" x2="64.00" y2="476.50" stroke="#ea2525" stroke-width="0.9"/>
<line x1="60.60" y1="496.10" x2="64.00" y2="496.10" stroke="#ea2525" stroke-width="0.9"/>
<circle cx="62.30" cy="486.80" r="1.3" fill="#ea2525"/>
<line x1="76.90" y1="476.50" x2="76.90" y2="496.10" stroke="#ea2525" stroke-width="0.9"/>
<line x1="75.20" y1="476.50" x2="78.60" y2="476.50" stroke="#ea2525" stroke-width="0.9"/>
<line x1="75.20" y1="496.10" x2="78.60" y2="496.10" stroke="#ea2525" stroke-width="0.9"/>
<circle cx="76.90" cy="486.80" r="1.3" fill="#ea2525"/>
<circle cx="92.20" cy="473.70" r="1.2" fill="#ea2525"/>
<circle cx="106.40" cy="505.10" r="1.2" fill="#ea2525"/>
<polyline points="51.90,451.30 66.90,461.40 81.80,471.50 96.90,461.40 111.90,463.30" fill="none" stroke="#141414" stroke-width="1.0" stroke-linejoin="round"/>
<line x1="51.90" y1="441.00" x2="51.90" y2="461.40" stroke="#141414" stroke-width="0.9"/>
<line x1="50.20" y1="441.00" x2="53.60" y2="441.00" stroke="#141414" stroke-width="0.9"/>
<line x1="50.20" y1="461.40" x2="53.60" y2="461.40" stroke="#141414" stroke-width="0.9"/>
<circle cx="51.90" cy="451.30" r="1.3" fill="#141414"/>
<line x1="66.90" y1="457.90" x2="66.90" y2="464.20" stroke="#141414" stroke-width="0.9"/>
<line x1="65.20" y1="457.90" x2="68.60" y2="457.90" stroke="#141414" stroke-width="0.9"/>
<line x1="65.20" y1="464.20" x2="68.60" y2="464.20" stroke="#141414" stroke-width="0.9"/>
<circle cx="66.90" cy="461.40" r="1.3" fill="#141414"/>
<line x1="81.80" y1="465.50" x2="81.80" y2="477.00" stroke="#141414" stroke-width="0.9"/>
<line x1="80.10" y1="465.50" x2="83.50" y2="465.50" stroke="#141414" stroke-width="0.9"/>
<line x1="80.10" y1="477.00" x2="83.50" y2="477.00" stroke="#141414" stroke-width="0.9"/>
<circle cx="81.80" cy="471.50" r="1.3" fill="#141414"/>
<line x1="96.90" y1="450.50" x2="96.90" y2="472.40" stroke="#141414" stroke-width="0.9"/>
<line x1="95.20" y1="450.50" x2="98.60" y2="450.50" stroke="#141414" stroke-width="0.9"/>
<line x1="95.20" y1="472.40" x2="98.60" y2="472.40" stroke="#141414" stroke-width="0.9"/>
<circle cx="96.90" cy="461.40" r="1.3" fill="#141414"/>
<line x1="111.90" y1="447.80" x2="111.90" y2="479.70" stroke="#141414" stroke-width="0.9"/>
<line x1="110.20" y1="447.80" x2="113.60" y2="447.80" stroke="#141414" stroke-width="0.9"/>
<line x1="110.20" y1="479.70" x2="113.60" y2="479.70" stroke="#141414" stroke-width="0.9"/>
<circle cx="111.90" cy="463.30" r="1.3" fill="#141414"/>
<text x="56.80" y="450.06" font-size="6.3" text-anchor="middle" fill="#444" stroke="#444" stroke-width="0.05" font-style="italic">(6)</text>
<text x="73.20" y="460.16" font-size="6.3" text-anchor="middle" fill="#444" stroke="#444" stroke-width="0.05" font-style="italic">(8)</text>
<text x="87.30" y="463.66" font-size="6.3" text-anchor="middle" fill="#444" stroke="#444" stroke-width="0.05" font-style="italic">(15)</text>
<text x="102.90" y="460.16" font-size="6.3" text-anchor="middle" fill="#444" stroke="#444" stroke-width="0.05" font-style="italic">(10)</text>
<text x="117.30" y="460.16" font-size="6.3" text-anchor="middle" fill="#444" stroke="#444" stroke-width="0.05" font-style="italic">(5)</text>
<text x="47.00" y="490.96" font-size="6.3" text-anchor="middle" fill="#ea2525" stroke="#ea2525" stroke-width="0.05" font-style="italic">(7)</text>
<text x="62.30" y="501.96" font-size="6.3" text-anchor="middle" fill="#ea2525" stroke="#ea2525" stroke-width="0.05" font-style="italic">(10)</text>
<text x="76.40" y="503.56" font-size="6.3" text-anchor="middle" fill="#ea2525" stroke="#ea2525" stroke-width="0.05" font-style="italic">(9)</text>
<text x="90.00" y="486.86" font-size="6.3" text-anchor="middle" fill="#ea2525" stroke="#ea2525" stroke-width="0.05" font-style="italic">(1)</text>
<text x="109.10" y="500.56" font-size="6.3" text-anchor="middle" fill="#ea2525" stroke="#ea2525" stroke-width="0.05" font-style="italic">(1)</text>
<line x1="119.80" y1="464.20" x2="122.30" y2="464.20" stroke="#444" stroke-width="0.8"/>
<line x1="122.30" y1="464.20" x2="122.30" y2="505.10" stroke="#444" stroke-width="0.8"/>
<line x1="119.80" y1="505.10" x2="122.30" y2="505.10" stroke="#444" stroke-width="0.8"/>
<text x="127.00" y="486.74" font-size="6.5" text-anchor="middle" fill="#333" stroke="#333" stroke-width="0.1">*</text>
<text x="150.80" y="422.30" font-size="8.6" text-anchor="start" fill="#222" stroke="#222" stroke-width="0.1" font-weight="bold">K.</text>
<rect x="171.40" y="417.40" width="88.60" height="17.60" rx="2.5" fill="#fff" stroke="#666" stroke-width="0.9"/>
<line x1="175.60" y1="419.45" x2="175.60" y2="424.85" stroke="#ea2525" stroke-width="0.9"/>
<line x1="173.70" y1="419.45" x2="177.50" y2="419.45" stroke="#ea2525" stroke-width="0.9"/>
<line x1="173.70" y1="424.85" x2="177.50" y2="424.85" stroke="#ea2525" stroke-width="0.9"/>
<circle cx="175.60" cy="422.15" r="1.4" fill="#ea2525"/>
<line x1="175.60" y1="427.02" x2="175.60" y2="432.42" stroke="#141414" stroke-width="0.9"/>
<line x1="173.70" y1="427.02" x2="177.50" y2="427.02" stroke="#141414" stroke-width="0.9"/>
<line x1="173.70" y1="432.42" x2="177.50" y2="432.42" stroke="#141414" stroke-width="0.9"/>
<circle cx="175.60" cy="429.72" r="1.4" fill="#141414"/>
<text x="179.60" y="424.84" font-size="7.5" text-anchor="start" fill="#262626" stroke="#262626" stroke-width="0.22">KPPC (overall n=16)</text>
<text x="179.60" y="432.40" font-size="7.5" text-anchor="start" fill="#262626" stroke="#262626" stroke-width="0.22">Control (overall n=15)</text>
<line x1="177.30" y1="446.00" x2="177.30" y2="525.60" stroke="#555" stroke-width="0.9"/>
<line x1="177.30" y1="449.10" x2="179.10" y2="449.10" stroke="#555" stroke-width="0.8"/>
<text x="175.10" y="451.89" font-size="7.8" text-anchor="end" fill="#3c3c3c" stroke="#3c3c3c" stroke-width="0.1">10</text>
<line x1="177.30" y1="464.70" x2="179.10" y2="464.70" stroke="#555" stroke-width="0.8"/>
<text x="175.10" y="467.49" font-size="7.8" text-anchor="end" fill="#3c3c3c" stroke="#3c3c3c" stroke-width="0.1">8</text>
<line x1="177.30" y1="480.00" x2="179.10" y2="480.00" stroke="#555" stroke-width="0.8"/>
<text x="175.10" y="482.79" font-size="7.8" text-anchor="end" fill="#3c3c3c" stroke="#3c3c3c" stroke-width="0.1">6</text>
<line x1="177.30" y1="495.60" x2="179.10" y2="495.60" stroke="#555" stroke-width="0.8"/>
<text x="175.10" y="498.39" font-size="7.8" text-anchor="end" fill="#3c3c3c" stroke="#3c3c3c" stroke-width="0.1">4</text>
<line x1="177.30" y1="510.60" x2="179.10" y2="510.60" stroke="#555" stroke-width="0.8"/>
<text x="175.10" y="513.39" font-size="7.8" text-anchor="end" fill="#3c3c3c" stroke="#3c3c3c" stroke-width="0.1">2</text>
<line x1="177.30" y1="525.60" x2="179.10" y2="525.60" stroke="#555" stroke-width="0.8"/>
<text x="175.10" y="528.39" font-size="7.8" text-anchor="end" fill="#3c3c3c" stroke="#3c3c3c" stroke-width="0.1">0</text>
<line x1="177.30" y1="525.60" x2="257.70" y2="525.60" stroke="#555" stroke-width="0.9"/>
<text x="188.30" y="534.02" font-size="7.6" text-anchor="middle" fill="#3c3c3c" stroke="#3c3c3c" stroke-width="0.1">9</text>
<text x="202.80" y="534.02" font-size="7.6" text-anchor="middle" fill="#3c3c3c" stroke="#3c3c3c" stroke-width="0.1">10</text>
<text x="217.80" y="534.02" font-size="7.6" text-anchor="middle" fill="#3c3c3c" stroke="#3c3c3c" stroke-width="0.1">11</text>
<text x="233.10" y="534.02" font-size="7.6" text-anchor="middle" fill="#3c3c3c" stroke="#3c3c3c" stroke-width="0.1">12</text>
<text x="247.90" y="534.02" font-size="7.6" text-anchor="middle" fill="#3c3c3c" stroke="#3c3c3c" stroke-width="0.1">13</text>
<text x="219.60" y="542.52" font-size="7.6" text-anchor="middle" fill="#3c3c3c" stroke="#3c3c3c" stroke-width="0.1">Weeks after birth</text>
<text x="152.10" y="489.32" font-size="7.6" text-anchor="middle" fill="#3c3c3c" stroke="#3c3c3c" stroke-width="0.1" transform="rotate(-90 152.10 486.60)">Wheel run</text>
<text x="159.80" y="489.32" font-size="7.6" text-anchor="middle" fill="#3c3c3c" stroke="#3c3c3c" stroke-width="0.1" transform="rotate(-90 159.80 486.60)">[kilometers]</text>
<polyline points="185.20,498.10 200.00,497.40 215.00,487.70 230.40,510.60" fill="none" stroke="#ea2525" stroke-width="1.0" stroke-linejoin="round"/>
<line x1="185.20" y1="491.60" x2="185.20" y2="504.70" stroke="#ea2525" stroke-width="0.9"/>
<line x1="183.50" y1="491.60" x2="186.90" y2="491.60" stroke="#ea2525" stroke-width="0.9"/>
<line x1="183.50" y1="504.70" x2="186.90" y2="504.70" stroke="#ea2525" stroke-width="0.9"/>
<circle cx="185.20" cy="498.10" r="1.3" fill="#ea2525"/>
<line x1="200.00" y1="488.70" x2="200.00" y2="506.60" stroke="#ea2525" stroke-width="0.9"/>
<line x1="198.30" y1="488.70" x2="201.70" y2="488.70" stroke="#ea2525" stroke-width="0.9"/>
<line x1="198.30" y1="506.60" x2="201.70" y2="506.60" stroke="#ea2525" stroke-width="0.9"/>
<circle cx="200.00" cy="497.40" r="1.3" fill="#ea2525"/>
<line x1="215.00" y1="478.10" x2="215.00" y2="497.40" stroke="#ea2525" stroke-width="0.9"/>
<line x1="213.30" y1="478.10" x2="216.70" y2="478.10" stroke="#ea2525" stroke-width="0.9"/>
<line x1="213.30" y1="497.40" x2="216.70" y2="497.40" stroke="#ea2525" stroke-width="0.9"/>
<circle cx="215.00" cy="487.70" r="1.3" fill="#ea2525"/>
<line x1="230.40" y1="501.00" x2="230.40" y2="520.10" stroke="#ea2525" stroke-width="0.9"/>
<line x1="228.70" y1="501.00" x2="232.10" y2="501.00" stroke="#ea2525" stroke-width="0.9"/>
<line x1="228.70" y1="520.10" x2="232.10" y2="520.10" stroke="#ea2525" stroke-width="0.9"/>
<circle cx="230.40" cy="510.60" r="1.3" fill="#ea2525"/>
<polyline points="190.30,483.30 205.20,458.20 220.10,474.60 235.00,463.30 249.50,454.10" fill="none" stroke="#141414" stroke-width="1.0" stroke-linejoin="round"/>
<line x1="190.30" y1="473.70" x2="190.30" y2="492.60" stroke="#141414" stroke-width="0.9"/>
<line x1="188.60" y1="473.70" x2="192.00" y2="473.70" stroke="#141414" stroke-width="0.9"/>
<line x1="188.60" y1="492.60" x2="192.00" y2="492.60" stroke="#141414" stroke-width="0.9"/>
<circle cx="190.30" cy="483.30" r="1.3" fill="#141414"/>
<line x1="205.20" y1="452.80" x2="205.20" y2="463.50" stroke="#141414" stroke-width="0.9"/>
<line x1="203.50" y1="452.80" x2="206.90" y2="452.80" stroke="#141414" stroke-width="0.9"/>
<line x1="203.50" y1="463.50" x2="206.90" y2="463.50" stroke="#141414" stroke-width="0.9"/>
<circle cx="205.20" cy="458.20" r="1.3" fill="#141414"/>
<line x1="220.10" y1="466.90" x2="220.10" y2="481.40" stroke="#141414" stroke-width="0.9"/>
<line x1="218.40" y1="466.90" x2="221.80" y2="466.90" stroke="#141414" stroke-width="0.9"/>
<line x1="218.40" y1="481.40" x2="221.80" y2="481.40" stroke="#141414" stroke-width="0.9"/>
<circle cx="220.10" cy="474.60" r="1.3" fill="#141414"/>
<line x1="235.00" y1="456.00" x2="235.00" y2="471.00" stroke="#141414" stroke-width="0.9"/>
<line x1="233.30" y1="456.00" x2="236.70" y2="456.00" stroke="#141414" stroke-width="0.9"/>
<line x1="233.30" y1="471.00" x2="236.70" y2="471.00" stroke="#141414" stroke-width="0.9"/>
<circle cx="235.00" cy="463.30" r="1.3" fill="#141414"/>
<line x1="249.50" y1="450.50" x2="249.50" y2="457.30" stroke="#141414" stroke-width="0.9"/>
<line x1="247.80" y1="450.50" x2="251.20" y2="450.50" stroke="#141414" stroke-width="0.9"/>
<line x1="247.80" y1="457.30" x2="251.20" y2="457.30" stroke="#141414" stroke-width="0.9"/>
<circle cx="249.50" cy="454.10" r="1.3" fill="#141414"/>
<text x="191.70" y="471.36" font-size="6.3" text-anchor="middle" fill="#444" stroke="#444" stroke-width="0.05" font-style="italic">(5)</text>
<text x="205.20" y="472.06" font-size="6.3" text-anchor="middle" fill="#444" stroke="#444" stroke-width="0.05" font-style="italic">(5)</text>
<text x="221.50" y="465.56" font-size="6.3" text-anchor="middle" fill="#444" stroke="#444" stroke-width="0.05" font-style="italic">(10)</text>
<text x="241.30" y="468.36" font-size="6.3" text-anchor="middle" fill="#444" stroke="#444" stroke-width="0.05" font-style="italic">(10)</text>
<text x="252.30" y="465.06" font-size="6.3" text-anchor="middle" fill="#444" stroke="#444" stroke-width="0.05" font-style="italic">(5)</text>
<text x="185.50" y="512.76" font-size="6.3" text-anchor="middle" fill="#ea2525" stroke="#ea2525" stroke-width="0.05" font-style="italic">(9)</text>
<text x="200.00" y="513.46" font-size="6.3" text-anchor="middle" fill="#ea2525" stroke="#ea2525" stroke-width="0.05" font-style="italic">(8)</text>
<text x="215.00" y="505.46" font-size="6.3" text-anchor="middle" fill="#ea2525" stroke="#ea2525" stroke-width="0.05" font-style="italic">(7)</text>
<text x="235.00" y="514.26" font-size="6.3" text-anchor="middle" fill="#ea2525" stroke="#ea2525" stroke-width="0.05" font-style="italic">(3)</text>
<line x1="198.00" y1="449.40" x2="207.70" y2="449.40" stroke="#222" stroke-width="0.9"/>
<text x="202.90" y="450.82" font-size="12" text-anchor="middle" fill="#222" stroke="#222" stroke-width="0.1">*</text>
<line x1="227.70" y1="449.40" x2="237.80" y2="449.40" stroke="#222" stroke-width="0.9"/>
<text x="232.30" y="450.82" font-size="12" text-anchor="middle" fill="#222" stroke="#222" stroke-width="0.1">*</text>
</svg></body></html>
